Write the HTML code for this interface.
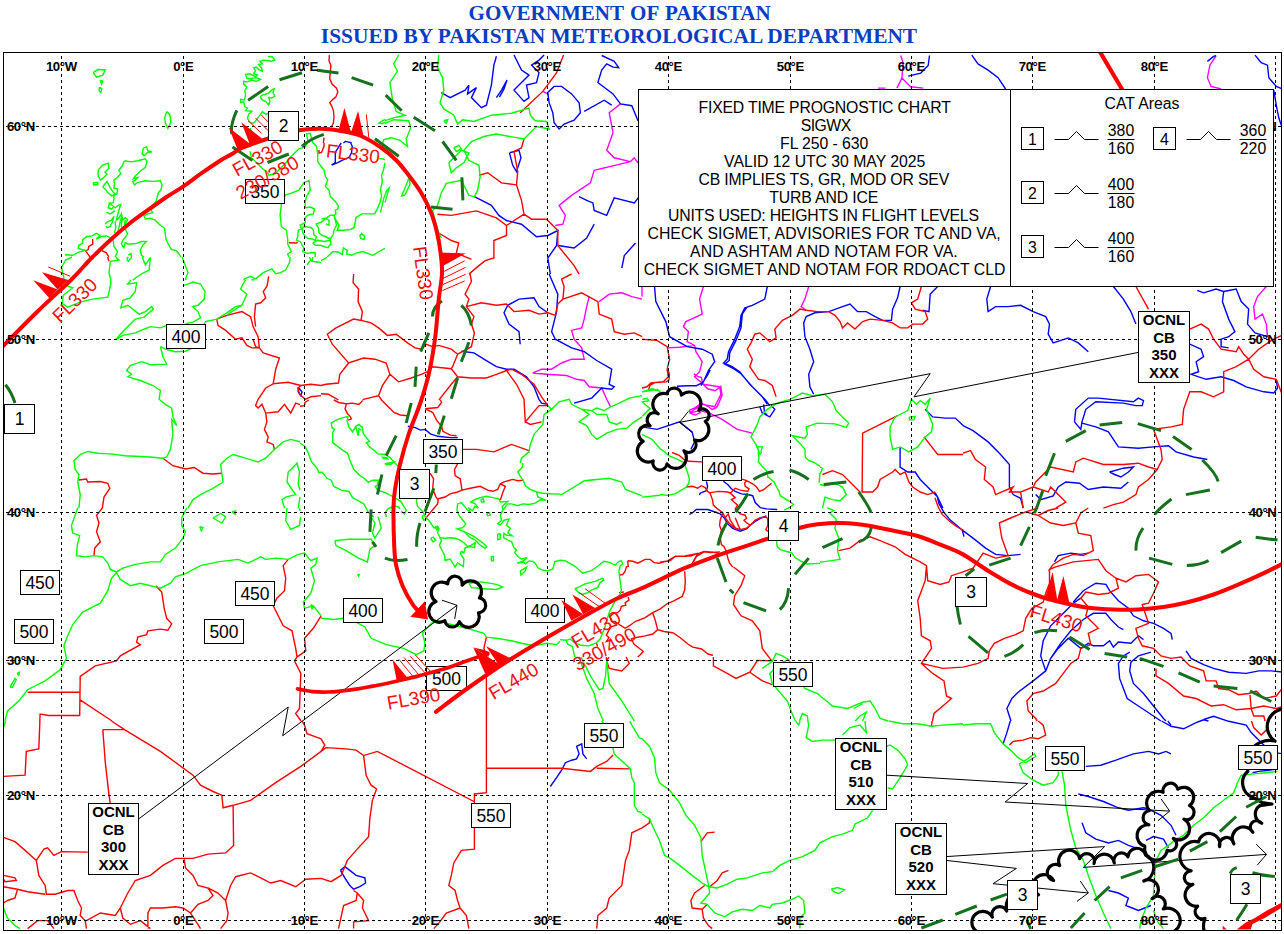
<!DOCTYPE html>
<html><head><meta charset="utf-8"><title>SIGWX</title>
<style>
html,body{margin:0;padding:0;background:#fff;}
body{width:1284px;height:934px;overflow:hidden;position:relative;font-family:"Liberation Sans",sans-serif;}
svg{position:absolute;left:0;top:0;display:block}
svg text{font-family:"Liberation Sans",sans-serif;}
.ttl{font-family:"Liberation Serif",serif;font-weight:bold;fill:#0b3dc1;text-anchor:middle}
.gl{font-weight:bold;font-size:13.2px;fill:#000;letter-spacing:-0.4px}
.bx{fill:#fff;stroke:#000;stroke-width:1}
.bt{font-size:17.5px;text-anchor:middle;fill:#000}
.ob{font-size:15px;font-weight:bold;text-anchor:middle;fill:#000}
.lg{font-size:15.8px;text-anchor:middle;fill:#000}
.jt{fill:none;stroke:#f00;stroke-linejoin:round}
.jf{fill:#f00;stroke:none}
.jh{fill:none;stroke:#f00;stroke-width:1}
.fl{font-size:19px;fill:#f40f14;}
.cat{fill:none;stroke:#15711b;stroke-width:3.0;stroke-linecap:butt}
.cb{fill:none;stroke:#000;stroke-width:3.2;stroke-linejoin:round;stroke-linecap:round}
.ld{fill:none;stroke:#000;stroke-width:1}
.grid{fill:none;stroke:#000;stroke-width:1;stroke-dasharray:3 3;shape-rendering:crispEdges}
.cG{fill:none;stroke:#00ff00;stroke-width:1.4}
.cR{fill:none;stroke:#ff0000;stroke-width:1.4}
.cB{fill:none;stroke:#0000ff;stroke-width:1.4}
.cM{fill:none;stroke:#ff00ff;stroke-width:1.4}
</style></head><body>
<svg width="1284" height="934" viewBox="0 0 1284 934">
<rect x="0" y="0" width="1284" height="934" fill="#fff"/>
<defs><clipPath id="fc"><rect x="3.5" y="52.5" width="1278.0" height="878.0"/></clipPath></defs>
<text class="ttl" x="619.6" y="20.2" font-size="21.05" word-spacing="1.2">GOVERNMENT OF PAKISTAN</text>
<text class="ttl" x="619" y="42.6" font-size="21.4">ISSUED BY PAKISTAN METEOROLOGICAL DEPARTMENT</text>
<g clip-path="url(#fc)">
<path class="cM" d="M542.8 91.4 L547.8 93.9 M620.5 103.9 L609.2 112.7 L613 132.7 L606.7 150.3 L614.2 157.8 L630.5 161.6 L594.2 170.3 L590.4 182.9 L571.6 195.4 L559.1 205.4 L565.4 215.4 L562.9 224.2 L555.3 225.5 M630.5 161.6 L634.3 157.8 L638 162.8 M642.1 299.1 L631.8 296.6 L621.8 292.8 L609.2 294.1 L599.2 301.6 M589.2 296.6 L586.7 306.6 L584.2 319.1 L581.7 327.9 L571.6 330.4 L574.1 339.2 L581.7 347.9 L584.2 359.2 L571.6 359.2 L561.6 363 L551.6 369.2 L541.6 369.2 L532.8 373 L546.6 374.3 L566.6 375.5 L576.6 379.3 L584.2 380.5 L589.2 386.8 L601.7 388 L606.7 399.3 L610.5 406.8 M703.4 286.5 L699.6 299.1 L702.2 314.1 L685.9 321.6 L683.4 326.6 L688.4 331.6 L687.1 341.7 L694.6 345.4 L695.9 351.7 L702.2 361.7 L699.6 371.7 L694.6 376.8 L703.4 384.3 L719.7 386.8 L720.9 394.3 L714.7 406.8 L702.2 404.3 L694.6 409.3 L689.6 413.1 L699.6 410.6 L709.7 413.1 L722.2 419.4 L737.2 429.4 L752.3 433.1 M667.1 347.9 L679.6 347.2 L694.6 345.4 M808.7 286.5 L804.9 299.1 L801.1 306.6 L806.2 310.3 M642 286.5 L642 296.6 M1266.3 286.5 L1257.5 296.6 L1253.7 306.6 L1255 319.1 L1262.5 314.1 L1266.3 324.1 L1267.5 336.7 M1216.1 55.6 L1209.9 65.2 L1207.4 77.7 L1211.1 86.5 L1221.1 89.0 M900.7 55.5 L903.2 63 L901.9 78.1 L896.9 88.1 M901.9 78.1 L910.7 86.8 L923.2 88.1 M878.1 88.1 L885.6 88.1 M693.9 373.8 L697.7 376.3 L701.4 377.5 L702.7 383.8 L707.7 388.8 L715.2 390.7 L720.8 386.3 L722.1 395.1 L719 402.6 L716.5 407.6 L712.1 409.5 L707.7 406.3 L701.4 403.2 L695.2 407.6 L689.5 410.1 L690.1 413.2 L695.2 415.1 L700.2 412.6 L697.7 407.6"/>
<path class="cB" d="M343.4 143 L345.3 141.4 L351 142.6 L351 143.0 M441.3 92.6 L450.1 97.6 L465.1 90.1 L468.9 85.1 L467.6 93.9 L476.4 87.6 L471.4 97.6 L481.4 107.7 L486.4 105.2 L491.4 85.1 L493.9 65.1 L496.4 56.3 M496.4 97.6 L501.5 90.1 L507 80.1 L504 88.9 L499.4 97.1 M514 55 L521.5 70.1 L529 75.1 L521.5 82.6 L514 90.1 L524 101.4 L529 97.6 L526.5 85.1 L536.5 82.6 L539 72.6 L531.5 65.1 L539 60.1 L544.1 55.0 M547.8 92.6 L554.1 86.4 L561.6 86.4 L571.6 93.9 L579.1 102.7 L580.4 112.7 L574.1 120.2 L564.1 124 L559.1 129 L554.1 122.7 L552.8 112.7 L549.1 102.7 L547.8 92.6 M601.7 55.5 L614.2 61.3 L618.7 67.6 L613 67.1 L606.7 63.8 L601.7 70.1 L597.9 82.6 L613 93.9 L620.5 103.9 L631.8 105.7 L638 120.7 M584.2 111.4 L604.2 100.2 L611.7 105.2 M509.5 152.8 L519 150.3 L521 157.8 L516.5 171.6 L512.7 165.3 L509.5 152.8 M474.4 196.6 L491.4 205.4 L498.9 215.4 L506.5 220.5 L521.5 224.2 L536.5 236.7 L547.8 235.5 L557.8 230.5 L556.6 245.5 L547.8 258 L550.3 274.1 M579.1 196.6 L586.7 200.4 L592.9 202.9 L594.2 210.4 L606.7 215.4 L614.2 197.9 L634.3 202.9 L642.1 192.9 M594.2 224.2 L586.7 238 L574.1 248 L557.8 245.5 M635.5 243 L624.3 255.5 L621.8 268.1 M298.2 387.3 L302 391.8 L300.8 395.6 L298.2 391.8 L298.2 387.3 M549.1 274 L557.8 294.1 L556.6 311.6 L551.6 331.6 L555.3 339.2 L571.6 347.9 L584.2 351.7 L596.7 360.5 L611.7 369.2 L609.2 384.3 L614.2 386.8 L611.7 389.3 L601.7 388 L591.7 398.1 L574.1 403.1 M547.8 312.8 L539 306.6 L534 297.8 L519 299.1 L507.7 305.3 L504 312.8 L509 324.1 L519 331.6 L520.2 344.2 M461.4 351.2 L473.9 352.9 L483.9 359.2 L496.4 366.7 L506.5 369.2 L514 369.2 L526.5 376.8 L534 386.8 L539 399.3 L541.6 403.1 L547.8 404.3 M654.5 286.5 L655.8 301.6 L665.8 321.6 L669.6 336.7 L687.1 346.7 L702.2 349.2 L712.2 354.2 L714.7 361.7 L708.4 370.5 L703.4 381.8 L700.9 385.5 M767.3 286.5 L764.8 299.1 L752.3 305.3 L744.8 307.8 L741 315.4 L739.7 326.6 L734.7 339.2 L728.5 351.7 L727.2 359.2 L723.5 363 L732.2 366.7 L739.7 371.7 L749.8 384.3 L762.3 396.8 L767.3 404.3 M747.3 306.6 L742.3 314.1 L741 327.9 L736 340.4 L729.7 352.9 L729.2 360.5 L724.7 364.2 L733.5 368.7 L741 373.7 L752.3 386.8 L764.8 399.3 L769.8 405.6 M763.6 404.3 L764.8 414.4 L769.8 416.9 L774.8 409.3 L771.1 405.6 M759.8 406.8 L762.3 413.1 L767.3 414.4 M900.1 286.5 L897.6 297.8 L892.6 309.1 L891.4 320.4 L882.6 320.4 L875.1 316.6 L866.3 311.6 L857.5 311.6 L850 304.1 L842.5 306.6 L828.7 311.6 L814.9 312.8 L806.2 316.6 L803.7 322.9 L804.9 336.7 L809.9 349.2 L813.7 361.7 L808.7 374.3 L809.9 386.8 L813.7 394.3 M937.7 286.5 L930.2 294.1 L929 311.6 L922.7 310.3 M925.2 409.3 L932.7 416.9 L945.3 418.1 L955.3 418.1 L963.1 425.6 M900.1 446.9 L900.1 467 L907.7 472 L915.2 472 L920.2 479.5 L930.2 489.5 L937.7 497.1 L942.8 508.1 M642 426.9 L657 429.4 L679.6 421.9 L692.1 431.9 L694.6 441.9 L690.9 449.4 M990.6 286.5 L986.8 299.1 L988.1 311.6 L995.6 306.6 L1008.1 306.6 L1020.6 305.3 L1033.2 311.6 L1045.7 316.6 L1049.5 324.1 L1048.2 334.2 L1053.2 342.9 L1068.3 337.9 L1078.3 342.9 L1088.3 351.7 M1113.4 286.5 L1123.4 299.1 L1130.9 311.6 L1135.9 324.1 M1197.3 290.3 L1203.6 292.8 L1216.1 289 L1223.7 291.5 L1222.4 301.6 L1228.7 319.1 L1234.9 331.6 L1228.7 336.7 L1221.1 339.2 L1221.1 346.7 L1228.7 347.9 M1223.7 291.5 L1236.2 289 L1241.2 301.6 L1248.7 309.1 L1247.5 324.1 L1255 332.9 L1267.5 336.7 M1189.8 344.2 L1201.1 349.2 L1203.6 356.7 L1196.1 361.7 L1198.6 371.7 L1191.1 374.3 L1206.1 379.3 L1221.1 376.8 L1233.7 380.5 L1246.2 386.8 L1263.8 391.8 L1273.8 393 L1277.5 388 L1276.3 380.5 M1074.5 421.9 L1075.8 409.3 L1088.3 398.1 L1098.3 398.1 L1133.4 401.8 L1138.4 398.1 L1143.5 400.6 L1142.2 405.6 L1135.9 405.6 L1123.4 403.1 L1095.8 401.8 L1085.8 409.3 L1082 421.9 L1080.8 429.4 L1074.5 421.9 M1082 423.1 L1095.8 426.9 L1108.4 431.9 L1118.4 446.9 L1138.4 448.2 L1153.5 446.9 L1168.5 445.7 L1176 451.9 L1193.6 457 L1207.4 459.5 M1109.6 472 L1123.4 468.2 L1133.4 467 L1128.4 472 L1120.9 477 L1114.6 474.5 L1109.6 472.0 M1128.4 482 L1120.9 488.3 L1103.4 487 L1088.3 489.5 L1079.5 483.3 L1065.8 482 L1058.2 487 L1053.2 495.8 L1040.7 499.6 L1035.7 494.6 M963 425.6 L973 430.6 L988.1 441.9 L1000.6 454.5 L1009.4 464.5 L1009.4 487 L1013.1 494.6 L1020.6 498.3 L1023.2 508.1 M1080.8 598.2 L1073.3 603.2 L1063.3 613.3 L1050.7 625.8 L1043.2 640.8 L1040.7 655.9 L1045.7 670.9 L1033.2 680.9 L1018.1 692.2 L1011.9 698.5 L1006.9 708.5 L1011 721.0 M1073.3 602 L1083.3 590.7 L1095.8 583.2 L1105.9 584.4 L1109.6 590.7 L1118.4 600.7 L1128.4 608.3 L1133.4 615.8 L1143.5 620.8 L1153.5 623.3 L1163.5 628.3 L1171 633.3 L1172.3 639.6 M1123.4 629.6 L1118.4 627 L1110.9 619.5 L1105.9 613.3 L1093.3 613.3 L1083.3 619.5 L1070.8 630.8 L1060.7 643.3 L1050.7 658.4 L1045.7 670.9 M1143.5 639.6 L1138.4 635.8 L1130.9 643.3 L1118.4 642.1 L1113.4 647.1 L1109.6 640.8 L1103.4 645.8 L1093.3 645.8 L1088.3 643.3 L1080.8 648.4 L1068.3 638.3 L1058.2 648.4 L1050.7 658.4 M1129.7 652.1 L1123.4 655.9 L1118.4 663.4 L1119.6 678.4 L1127.2 698.5 L1138.4 706 L1153.5 716 L1160.9 721.0 M1200.3 721 L1203.6 719.8 L1208.5 721.0 M1151 652.1 L1138.4 655.9 L1130.9 662.1 L1129.7 670.9 L1133.4 683.4 L1143.5 693.5 L1153.5 706 L1163.5 718.5 L1166 721.0 M1186.1 650.9 L1191.1 658.4 L1203.6 664.6 L1213.6 668.4 L1228.7 672.2 L1246.2 673.4 L1258.7 670.9 L1271.3 670.9 L1284.1 672.2 M963 530.6 L973 538.1 L985.6 548.1 L995.6 554.4 L1008.1 555.6 L1020.6 554.4 M1054.5 561.9 L1058.2 555.6 L1070.8 553.1 L1080.8 554.4 L1088.3 553.1 M340.5 870.4 L344.8 866.7 L349.8 870.4 L356.1 875.4 L364.9 877.9 L365.6 883 L359.8 886.7 L353.6 889.2 L349.8 885.5 L344.8 877.9 L340.5 870.4 M550.3 786.5 L556.6 777.7 L561.6 770.2 L565.4 762.7 L571.6 760.2 L576.6 758.9 L579.1 753.9 L576.6 746.4 L581.7 743.9 L582.9 753.9 L586.7 758.9 M1003.1 743.9 L1006.9 732.6 L1010.3 721.0 M1085.8 766.4 L1100.8 765.2 L1115.9 760.2 L1133.4 753.9 L1148.5 751.4 L1158.5 753.9 L1166 751.4 L1171 753.9 M1078.3 794 L1088.3 796.5 L1103.4 801.5 L1118.4 807.8 L1128.4 810.3 L1143.5 807.8 L1148.5 809 L1161 815.3 L1171 825.3 L1176 835.3 M1082 822.8 L1085.8 832.8 L1095.8 839.1 L1108.4 842.9 L1118.4 840.4 L1128.4 845.4 L1135.9 847.9 M1108.4 890.5 L1118.4 893 L1128.4 898 L1125.9 905.5 L1138.4 910.5 L1151 905.5 M1161.6 721 L1171 726.3 L1183.6 728.8 L1196.1 722.6 L1200.4 721.0 M1227.8 721 L1228.7 721.3 L1246.2 725.1 L1251.2 732.6 L1258.7 740.1 L1266.3 747.6 L1273.8 752.6 L1284.1 753.9 M1167.8 721 L1171 725.1 M1146 840.4 L1153.5 836.6 L1163.5 839.1 L1168.5 847.9 M1252.5 772.7 L1258.7 771.4 L1268.8 770.2 L1277.5 768.9 M971.8 55.1 L978 63.9 L988.1 70.2 L998.1 77.7 L1005.6 89.0 M1207.4 61.4 L1213.6 56.4 L1216.1 55.6 M1255 55.1 L1261.2 62.7 L1267.5 65.2 L1268.8 77.7 L1276.3 86.5 L1282.5 89.0 M1273.8 90.2 L1276.3 105.3 L1278.8 117.8 L1281.3 125.3 M929.5 55.5 L928.2 65.5 L920.7 73.1 L908.2 76.1 M677 386.3 L687.6 385.7 L696.4 385.7 L702.7 382.5 L707.7 375 L710.2 370.0 M407.8 426.3 L415.3 427.6 L420.3 430.1 L425.3 429.4 L430.3 433.8 L437.8 436.3 L450.4 437.6 L457.9 437.6 M331.5 165.1 L335.3 162.6 L335.3 152.5 L339 146.3 L341.2 143.0 M350.8 143 L352.2 146.3 L351.6 152.5 L349.1 157.5 L345.3 158.8 L341.5 160.7 L337.8 162.6 L331.5 165.1 M706.4 481.3 L707.6 486.3 L706.4 490.7 L700.1 493.2 L699.5 495.1 M723.3 481.3 L727.7 484.5 L731.4 488.8 L735.2 491.4 L741.5 493.9 L747.7 494.5 L752.7 495.7 L755.2 502.6 L760.3 507.6 L766.5 508.9 L777.2 509.5 M689.4 514.5 L692.6 512.7 L696.3 509.5 L707.6 509.5 L715.1 512 L720.2 513.9 L724.5 518.3 L727.7 523.9 L732.7 528.3 L740.2 531.2 L746.5 528.9 L750.2 525.2 L755.2 521.4 L760.3 518.3 L766.5 515.8 M935 492.7 L937.2 496.3 L939 503.8 L944.1 512.6 L950.3 520.1 L957.8 526.3 L962.2 530.1 L964 536.6 M1203.6 719.5 L1213.6 716.3 L1228.7 721.3"/>
<path class="cR" d="M89.5 257 L89.7 257.5 M107.6 257 L109 261.3 M268.7 276.3 L268 280.0 M324 137.6 L323.4 143.0 M563.6 55 L556.6 72.6 L542.8 91.4 L520.2 112.7 M524 139 L521.5 147.8 L514 151.5 L517.7 171.6 L516.5 184.9 L521.5 200.4 L524 214.2 M478.9 175.3 L487.7 172.8 L501.5 182.9 L516.5 184.9 M437.5 214.2 L451.3 215.4 L476.4 210.9 L496.4 217.9 L506.5 225.5 L524 214.2 L531.5 219.2 L546.6 219.2 L557.8 230.5 L557.8 245.5 L574.1 265.6 L579.1 274.1 M506.5 225.5 L506.5 235.5 L493.9 240.5 L493.9 258 L485.2 260.6 L478.9 265.6 L468.9 274.1 M438.8 233 L451.3 240.5 L458.8 243 L456.3 253 L471.4 259.3 M162.9 458.2 L172.9 465.7 L185.5 469 L194.2 467.5 L203 473.2 L213 474 L221.8 473.2 M78.9 480 L86.5 479 L87.7 482 L100.3 481.5 L107.8 483.3 L109.8 488.3 L104 497.1 L102.3 508.1 M216.8 319.1 L226.8 315.4 L241.9 311.6 L250.6 316.6 L253.1 326.6 L258.1 336.7 L259.4 347.9 L251.9 347.9 L246.9 345.4 L241.9 337.9 L235.6 339.2 L225.6 330.4 L218 325.4 L216.8 319.1 M259.4 347.9 L263.2 352.9 L279.4 358 L275.7 369.2 L273.2 383.8 L288.2 382.3 L300.8 385.5 L310.8 384.3 L321.1 385.5 M253.1 339.2 L255.6 346.7 L259.4 347.9 M268.2 280 L266.9 286.5 L263.2 291.5 L265.7 297.8 L260.7 302.8 L255.6 304.1 L254.4 316.6 L255.6 326.6 M273.2 383.8 L265.7 388 L258.1 399.3 L255.6 405.6 L258.1 408.1 L261.9 404.3 L265.7 413.1 L278.2 411.8 L284.5 404.3 L290.7 413.1 L295.7 403.1 L300 404.7 M305.2 400 L305.3 399.3 L299.5 394.3 L298.2 388 L300.8 385.5 M305.3 399.3 L310.8 396.8 L321.1 395.6 M265.7 413.1 L266.9 421.9 L264.4 429.4 L268.2 436.9 L266.9 441.9 L273.2 444.4 L274.4 449.4 M353.6 274 L353.1 282.8 L358.6 289 L358.1 301.6 L362.4 311.6 L361.1 320.4 L353.6 319.1 L336 327.9 L327.3 334.2 L332.3 344.2 L348.6 363 L363.6 358 L374.9 359.2 L386.2 363 L389.9 374.3 L382.4 385.5 L378.6 395.6 L363.6 399.3 L362.9 400.0 M338.5 400 L328.5 394.3 L321 393.8 M348.6 363 L339.8 374.3 L338.5 383 L326 384.3 L321 385.5 M361.1 320.4 L371.1 322.9 L378.6 327.9 L387.4 335.4 L396.2 334.2 L407.5 342.9 L415 347.9 L421.3 349.2 L426.3 344.2 L432.5 346.7 L438.8 345.4 L451.3 349.2 L457.6 354.2 L452.6 366.7 L451.3 368.7 M389.9 374.3 L398.7 381.8 L411.2 378 L421.3 374.3 L427.5 371.7 L432.5 366.7 L451.3 368.7 L457.6 376.8 L471.4 378 L486.4 378 L496.4 374.3 L506.5 370.5 M457.6 354.2 L471.4 346.7 L474.4 332.9 L471.4 324.1 L473.9 316.6 L466.4 306.6 L468.9 299.1 L465.1 294.1 L471.4 281.5 L470.1 274.0 M466.4 306.6 L481.4 302.8 L496.4 305.3 L506.5 304.1 L514 311.6 L529 310.3 L539 314.1 L547.8 312.8 L555.3 315.4 L557.8 304.1 L562.9 299.1 L564.1 286.5 L561.6 279 L571.6 274.0 M562.9 299.1 L581.7 292.8 L597.9 301.6 L599.2 314.1 L611.7 319.1 L614.2 331.6 L624.3 334.2 L634.3 332.9 L642.1 336.7 M378.6 395.6 L381.6 400.0 M439 400 L441.3 396.8 L451.3 384.3 L457.6 376.8 M506.5 370.5 L516.5 384.3 L524 399.3 L525.3 421.9 L539 405.6 L547.8 405.6 M525.3 421.9 L530.3 424.4 L541.6 421.9 M506.5 370.5 L511.5 369.2 L521.5 374.3 L534 384.3 L541.6 396.8 L547.8 405.6 M462.6 449.4 L476.4 449.4 L493.9 451.9 L511.5 444.4 L529 450.7 M642 339.2 L657 340.4 L667.1 346.7 L669.6 359.2 L667.1 369.2 L668.3 376.8 L663.3 381.8 L650.8 383 L647 386.8 L642 388.0 M776.1 396.8 L772.3 385.5 L764.8 380.5 L758.5 379.3 L749.8 366.7 L752.3 359.2 L747.3 349.2 L751 342.9 L754.8 334.2 L759.8 332.9 L769.8 341.7 L776.1 337.9 L774.8 329.1 L782.4 320.4 L792.4 315.4 L799.9 309.1 L806.2 310.3 L817.4 311.6 L828.7 311.6 L835 315.4 L840 321.6 L842.5 327.9 L847.5 322.9 L855 329.1 L862.6 321.6 L870.1 319.1 L882.6 320.4 L892.6 322.9 L900.1 327.9 L907.7 327.9 L912.7 324.1 L922.7 324.1 L927.7 319.1 L925.2 311.6 L915.2 309.1 L911.4 302.8 L917.7 299.1 L921.4 286.5 M897.6 415.6 L895.1 416.9 L862.6 433.1 L862.1 492 L872.6 492 L877.6 487 L880.1 479.5 L892.6 472 L895.1 469.5 L900.1 474.5 L905.2 472 L908.9 482 L912.7 487 L920.2 492 L927.7 494.6 L935.2 492.0 M924 436.9 L937.7 454.5 L963.1 454.5 M822.5 474.5 L832.5 470.7 L842.5 474.5 L852.5 484.5 L860 492.0 M1135.9 286.5 L1148.5 309.1 M1189.8 329.1 L1201.1 324.1 L1208.6 329.1 L1213.6 339.2 L1221.1 349.2 L1236.2 351.7 L1238.7 346.7 L1243.7 354.2 L1248.7 359.2 L1253.7 369.2 L1263.8 376.8 L1276.3 379.3 L1282.5 395.6 M1284.1 334.2 L1271.3 340.4 L1258.7 349.2 L1248.7 359.2 L1236.2 366.7 L1223.7 371.7 L1223.7 391.8 L1213.6 396.8 L1201.1 391.8 L1189.8 391.8 L1183.6 409.3 L1182.3 424.4 L1171 426.9 L1153.5 429.4 L1161 449.4 L1162.2 459.5 L1157.2 469.5 L1148.5 467 L1138.4 463.2 L1123.4 464.5 L1103.4 464.5 L1083.3 458.2 L1075.8 462 L1073.3 472 L1050.7 467 L1043.2 474.5 L1035.7 482 L1033.2 487 L1020.6 492 L1023.2 508.1 M963 453.2 L970.5 450.7 L975.5 459.5 L985.6 467 L984.3 479.5 L993.1 487 L995.6 494.6 L1013.1 487 L1009.4 492 L1020.6 492.0 M1033.2 487 L1048.2 492 L1050.7 487 L1058.2 494.6 L1065.8 502.1 L1055.7 508.1 M1157.2 469.5 L1148.5 479.5 L1138.4 487 L1135.9 494.6 L1123.4 502.1 L1113.4 504.6 L1103.4 508.1 M102.3 508 L96.5 515.5 L99 523 L96.5 531.8 L100.3 541.8 L94.7 548.1 L94 555.6 M155.9 585.7 L161.7 592 L164.2 608.3 L166.7 618.3 L171.7 623.8 L167.9 630.3 L160.4 629.1 L147.9 630.8 L146.6 634.6 L137.8 637.1 L136.6 642.1 L140.4 644.6 L120.3 655.9 L116.5 660.9 L95.2 665.9 L80.2 676.4 L79.7 715.5 L48.9 715.5 L40.1 714 L39.8 721.0 M27.6 692.2 L79.7 692.2 M79.7 699.7 L112 721.0 M288.2 559.4 L283.2 565.6 L285.7 578.2 L284.5 590.7 L276.9 598.2 L273.2 605.7 L278.2 615.8 L283.2 625.8 L292 630.8 L295.7 648.4 L297 657.1 M321.1 615.8 L313.3 628.3 L304.5 638.3 L305.8 650.9 L297 657.1 L294.5 660.9 L300.8 673.4 L299.5 708.5 L295.7 713.5 L301 721.0 M486.4 637.1 L483.9 648.4 L486.4 658.4 L486.4 721.0 M606.3 657 L606.7 660.9 M606.7 660.9 L609.2 668.4 L621.8 670.9 L629.3 663.4 L626.1 657.0 M609 657 L606.7 660.9 M733.5 567 L744.8 575.7 L741 585.7 L734.7 595.7 L733.5 604.5 L741 615.8 L752.3 620.8 L759.8 630.8 L762.3 648.4 L769.8 658.4 L772.3 661.4 M713.4 657 L713.4 665.9 L727.2 673.4 L736 678.4 L749.8 672.2 L754.8 664.6 L757.3 660.4 L772.3 660.9 M749.8 672.2 L762.3 680.9 L772.3 684.7 M838.7 550.6 L850 548.1 L860 540.6 L870.1 536.8 L880.1 540.6 L895.1 546.8 L905.2 554.4 L912.7 558.1 L920.2 561.9 L926.5 565.6 L927.7 580.7 L940.2 584.4 L949 581.9 L951.5 575.7 L963.1 571.9 M926.5 565.6 L925.2 580.7 L917.7 600.7 L920.2 618.3 L921.4 635.8 L930.2 640.8 L931.5 648.4 L926.5 655.9 L921.4 663.4 L932.7 673.4 L944 680.9 L946.5 696 L951.5 698.5 L942.8 706 L934 713.5 L932.5 721.0 M921.4 663.4 L942.8 668.4 L963.1 667.1 M963 571.9 L973 568.2 L983.1 553.1 L995.6 558.1 L1008.1 555.6 L1001.8 538.1 L999.3 523 L1010.6 518 L1025.7 511.8 L1038.2 508.0 M1025.7 511.8 L1038.2 515.5 L1048.2 510.5 L1058.2 508.0 M1038.2 515.5 L1050.7 523 L1063.3 525.5 L1075.8 523 L1080.8 513 L1088.3 508.0 M1075.8 523 L1078.3 533.1 L1090.8 535.6 L1093.3 550.6 L1083.3 555.6 L1073.3 554.4 L1063.3 558.1 L1053.2 564.4 L1049.5 569.4 L1055.7 566.9 L1073.3 561.9 L1098.3 559.4 L1105.9 570.7 L1115.9 578.2 L1125.9 581.9 L1135.9 575.7 L1148.5 574.4 L1158.5 581.9 L1153.5 593.2 L1148.5 603.2 L1142.2 604.5 L1146 615.8 L1148.5 623.3 L1135.9 628.3 L1138.4 638.3 L1142.2 645.8 L1153.5 648.4 L1161 655.9 L1171 658.4 L1181 657.1 L1189.8 665.9 L1203.6 670.9 L1206.1 680.9 L1216.1 680.9 L1218.6 688.5 L1228.7 689.7 L1238.7 694.7 L1248.7 693.5 L1256.2 691 L1263.8 698.5 L1276.3 696 L1284.1 685.9 M1115.9 578.2 L1118.4 588.2 L1108.4 593.2 L1098.3 594.5 L1085.8 592 L1080.8 598.2 L1088.3 607 L1085.8 615.8 L1098.3 628.3 L1088.3 633.3 L1090.8 644.6 L1080.8 648.4 L1078.3 658.4 L1070.8 663.4 L1063.3 673.4 L1055.7 683.4 L1043.2 691 L1033.2 693.5 L1026.9 701 L1028.2 711 L1035.7 718.5 L1037.3 721.0 M1156 668.4 L1156 675.9 L1168.5 683.4 L1183.6 696 L1196.1 698.5 L1211.1 706 L1223.7 704.7 L1236.2 709.8 L1251.2 708.5 L1263.8 706 L1276.3 708.5 L1284.1 706.0 M1250 694.7 L1251.2 708.5 L1253.7 716 L1263.8 716 L1265 721.0 M963 667.1 L978 663.4 L988.1 658.4 L989.3 650.9 L994.3 643.3 L1004.4 638.3 L1015.6 634.6 L1023.2 630.8 L1025.7 618.3 L1031.9 608.3 L1043.2 602 L1045.7 593.2 L1049.5 583.2 L1049.5 569.4 M39.9 721 L38.8 748.9 L26.3 751.4 L25.1 775.2 L3.5 776.4 M111.5 721 L125.3 730.1 L160.4 751.4 L193 775.2 L200.5 785.2 L213 791.5 L221.8 795.2 L223.1 807.8 L233.1 805.3 L250.6 800.3 L275.7 782.7 L300.8 766.4 L321.1 751.4 M102.8 729.6 L125.3 729.6 M102.8 729.6 L105.3 762.7 L109 795.2 L110.3 803.3 M233.1 805.3 L233.6 845.4 L225.6 852.9 L208 854.1 L193 858.4 L175.4 858.4 L162.9 865.4 L150.4 875.4 L135.3 880.5 L127.8 893 L120.3 908 L122.8 918 L130.3 924.3 L140.4 920.6 L150.4 928.6 M3.5 837.3 L15 841.6 L25.1 850.4 L36.3 860.4 L43.9 849.1 L47.6 847.9 L53.9 855.4 L61.4 851.6 L87.7 852.1 M36.3 860.4 L38.8 875.4 L45.1 885.5 L46.4 894.2 L55.1 894.2 L67.7 890.5 L73.9 890.5 L77.7 900.5 L81.5 908 L80.2 915.5 L85.2 920.6 L86.5 928.6 M3.5 875.4 L15 877.9 L16.3 880.5 L5 881.7 L3.5 879.2 M3.5 886.7 L17.5 889.2 L27.6 891.7 L45.1 894.2 M17.5 889.2 L15 898 L7.5 900.5 L3.5 903.0 M53.9 928.6 L47.6 920.6 L37.6 920.6 L27.6 928.6 M86.5 920.6 L100.3 913 L107.8 914.3 L115.3 915.5 L120.3 908.0 M147.9 928.6 L147.9 913 L150.4 908 L162.9 908 L175.4 906.8 L183 908 L190.5 913 L195.5 920.6 L200.5 928.6 M184.2 859.1 L185.5 867.9 L193 875.4 L198 885.5 L208 888 L213 895.5 L208 900.5 L198 904.3 L190.5 913.0 M208 888 L218 893 L225.6 900.5 L228.1 913 L226.8 920.6 L220.6 928.6 M225.6 900.5 L230.6 885.5 L235.6 876.7 L250.6 872.9 L260.7 877.9 L270.7 883 L280.7 880.5 L295.7 886.7 L305.8 879.2 L321.1 878.4 M321 751.4 L326 747.6 L346.1 748.9 L356.1 750.1 L363.6 755.6 L377.4 751.4 L473.9 801.5 M486.4 721 L486.4 792.7 L474.4 794 L474.4 849.1 L461.4 850.4 L453.8 862.9 L451.3 875.4 L448.8 885.5 L455.1 890.5 L457.6 900.5 L460.1 908 L446.3 913 L438.8 923.1 L433.8 928.6 M486.4 768.2 L561.6 768.2 L590.4 771.4 L596.7 766.4 L606.7 761.4 L613 755.1 M596.7 768.2 L630.5 768.9 M363.6 755.6 L366.1 775.2 L371.1 785.2 L376.6 789 L372.4 800.3 L369.9 817.8 L368.6 836.6 L356.1 850.4 L347.3 860.4 L344.8 866.7 L341.1 875.4 L331 881.7 L321 878.4 M353.6 890.5 L357.3 893 L356.1 900.5 L343.6 905.5 L338.5 928.6 M357.3 893 L363.6 900.5 L362.4 908 L368.6 920.6 L353.6 921.8 L353.6 928.6 M460.1 908 L466.4 915.5 L468.9 928.6 M321 738.8 L324.8 745.1 L321 751.4 M642.1 827.8 L631.8 832.8 L629.3 850.4 L625.5 860.4 L621.8 885.5 L609.2 898 L606.7 908 L597.9 915.5 L596.7 928.6 M931.5 726.3 L932.1 721.0 M642 827.8 L649.5 822.8 L649.5 817.8 M700.9 841.6 L707.2 832.8 L714.7 832.1 M709.7 886.7 L717.2 880.5 L722.2 872.9 L728.5 870.4 M704.7 885.5 L694.6 893 L690.9 900.5 L692.1 908 L702.2 909.3 L707.2 904.3 M702.2 909.3 L703.4 918 L708.4 925.6 L712.2 928.6 M1038.3 721 L1043.2 725.1 L1045.7 735.1 L1038.2 738.8 L1030.7 737.6 L1023.2 740.1 L1013.1 741.4 L1009.4 745.1 M1251.5 721 L1253.7 727.6 L1261.2 735.1 L1266.3 730.1 L1268.8 721.3 L1268.5 721.0 M668.2 370 L669.5 375 L668.9 380 L666.3 381.9 L655.1 382.5 L650.1 385 L648.2 390.7 M457.6 463.8 L454.5 469.4 L455.1 475.7 L460.2 478.8 L462 490.1 M426.3 517.6 L431.3 511.4 L437.6 503.9 L438.2 500.1 L435.7 496.3 L433.2 490.1 L432.8 486.9 L433.6 478.8 L430.1 473.2 M438.2 498.8 L445.1 497 L450.1 493.8 L457.6 492 L462 490.1 L470.2 488.2 L480.2 486.3 L487.7 490.1 L492.7 491.3 L497.7 489.4 L500.3 483.8 L504 481.9 L512.8 479.4 L517.8 480.7 L523.4 480.1 M500.3 483.8 L505.3 486.3 L502.8 492.6 L500.3 500.1 M333.8 400 L338.8 402.5 L346.4 403.8 L345.1 408.8 L347.6 413.8 L350.1 416.3 L351.4 418.8 L348.2 420.1 M346.4 403.8 L352.6 403.1 L358.9 404.4 L362.7 400.6 M381.5 400 L387.7 406.3 L394 412.5 L400.3 415 L407.8 415.7 M425.3 408.8 L432.8 412.5 L436.6 420.1 L441.6 426.3 L442.9 431.3 L450.4 435.1 L456.6 435.7 M425.3 408.8 L437.8 407.5 L441.6 402.5 L440.4 400.0 M300 406.3 L304.4 405.6 L305 402.5 L308.8 400.0 M92.6 239 L92.8 244 L88.8 246.5 L88.2 249.6 L85.7 250.9 L90 257.0 M101.4 250.3 L106.4 252.8 L108.8 257.0 M288.9 242.8 L296.4 243 L297.7 242.1 M324 143 L324 146.3 L321.5 152.5 L319 153.2 L319 150.0 M671.9 452.5 L678.8 455 L683.8 459.4 L688.8 461.3 L702 461.9 M686.3 487 L692.6 486.3 L697.6 488.2 L701.4 485.7 L705.1 487.6 L707.6 491.4 L710.1 493.2 L712.6 500.1 L713.3 505.1 L717.6 508.9 L722.7 512.7 L725.2 517.7 L728.9 522.7 L733.9 527.7 L740.2 529.6 L746.5 528.3 L750.2 525.2 L746.5 522.7 L744 520.2 L746.5 518.3 L745.2 515.2 L740.2 513.9 L737.7 511.4 L735.2 508.9 L737.7 505.1 L733.9 502 L731.4 499.5 L735.2 497.6 L730.2 493.2 L727.7 492 L718.9 491.4 L710.1 492.6 M730.2 493.2 L735.2 488.2 L740.2 490.1 L747.7 491.4 L749 488.8 L745.2 486.3 L744.6 483.2 L746.5 480.7 L742.1 479.1 M746.5 480.7 L752.7 483.8 L756.5 487 L759.6 491.4 L764 489.5 L767.8 486.3 L771.5 483.2 M722.7 512.7 L720.2 520.2 L719.5 525.2 L721.4 530.2 L720.2 537.7 L721.4 544.6 L723.9 546.5 L726.4 551.5 L727.7 557.8 L729.5 562.8 L732.7 567.0 M725.2 517.7 L728.3 513.9 L730.2 520.2 L735.2 527.7 L737.7 530.2 M735.2 517.7 L738.3 525.2 L740.2 529.6 M750.2 525.2 L755.2 520.2 L760.3 517.7 L765.3 517 L767.8 518.3 L767.8 525.2 L765.9 529.6 L767.8 531.5 M660 562.2 L667.5 560.9 L675 556.5 L685.1 555.9 L695.1 554 L697.6 554 L693.8 560.3 L691.3 565.3 L690.1 567.0 M697.6 554 L703.9 551.5 L712.6 552.1 L718.9 553.4 M935 497.8 L935.3 498.8 L938.4 507.5 L942.2 514.4 L949.1 520.7 L955.3 525.7 L961.6 529.5 L964 530.7 M618.9 575.1 L622.7 574.5 L625.2 571.3 L626.4 566.9 L628.3 566.3 L627.7 561.9 L628.3 560.7 L632.7 561.3 L637.7 563.2 L645.2 559.4 L650.2 559.4 L654 562.6 L659 563.2 L664 561.9 L670.3 560.7 L675.3 556.3 L685.3 556.3 L691.6 555.7 L697.8 553.2 M692.8 562.6 L696.6 556.3 L704.1 551.9 L710.4 552.5 L720 551.9 M684.7 571.3 L685.3 581.4 L684.7 590.1 L682.2 596.4 L672.8 601.4 L667.8 603.3 L660.3 608.9 L652.7 612.7 L645.2 617.7 L635.2 621.5 L630.2 625.2 L625.2 628.3 L620.2 625.2 L615.1 621.5 M652.7 612.7 L655.2 620.2 L657.7 629.6 L664 631.5 L672.8 632.7 L680.3 637.7 L687.8 644 L692.8 647.1 L701.6 649 L707.9 654 L712.9 655.3 M657.7 629.6 L652.7 634 L645.2 635.9 L635.2 637.7 L631.4 639 L633.9 644 L640.2 649 L643.3 651.5 L640.2 654.7 L637.7 657.0 M618.9 592.6 L623.9 592.0 M628.3 597 L628.9 600.2 L625.2 602.7 L625.8 605.2 L621.4 606.4 L620.2 610.2 L617.6 612.7 L612.6 613.9 L610.1 616.4 L611.4 621.5 L615.1 621.5 L616.4 625.2 L611.4 626.5 L608.9 630.2 L606.4 635.2 L608.9 637.7 L606.4 641.5 L610.1 640.3 M596.3 642.8 L597.6 646.5 M302.1 721 L304.5 725.1 L307 733.6 L321.1 738.8 M329.4 55.1 L329 60.7 L330.9 65.7 L330.3 71.9 L329.7 78.8 L332.2 84.4 L336.5 88.1 L337.8 91.9 L335.9 96.9 L332.2 100 L329.7 102.5 L331.5 105.6 L333.4 110.6 L334 116.8 L333.4 123 L331.5 126.8"/>
<path class="cG" d="M93.2 72.6 L97.7 69.5 L105.3 70 L102.8 75.1 L96.5 77.1 L93.2 72.6 M100.3 80.1 L102.8 81.1 L101.5 84.1 L100.3 80.1 M99.5 87.1 L101.8 88.6 L100.8 92.6 L99.2 90.8 L99.5 87.1 M166.7 111.6 L169.9 114.7 L170.9 122.2 L167.9 128.4 L165.4 123.4 L164.7 117.7 L166.7 111.6 M250.5 128 L249.4 137.2 L250.4 143.0 M182.1 257 L184.2 262.5 L188 272.6 L185.5 278.8 L186.3 280.0 M142.2 257 L145.4 265 L150.4 257.5 L149.1 270 L141.6 273.8 L132.9 280.0 M126.6 259.5 L128.2 257.0 M131.7 257 L128.3 261.3 L126.6 259.5 M63.2 280 L63.9 277.6 L61.4 267.5 L65.7 260 L72 257.0 M115.7 257 L119 260 L110.3 261.3 L109 272.6 L110.8 280.0 M285.7 270 L289.5 262.5 L290.2 257.0 M309.3 257 L310.8 260 L307 265.0 M312.9 257 L312 261.3 L321.1 262.5 M243.7 280 L244.4 278.8 L250.6 276.3 L255.6 278.8 L263.2 272.6 L271.9 268.8 L275.7 273.8 L280.7 272.6 L285.7 270.0 M251.6 280 L253.1 279.6 L254.4 280.0 M256.3 141.4 L255.5 143.0 M308.8 143 L307.7 140.1 L306.5 133.9 L310.2 133.2 L312.7 142.6 L313.2 143.0 M398.7 55 L393.7 63.8 L397.4 71.3 L389.9 82.6 L392.4 98.9 L396.2 111.4 L405 115.2 L396.2 117.2 L385 120.7 M385 123.4 L393.7 119.7 L408.7 120.7 L410.7 127.7 L406.2 139 L407.5 146.5 L399.9 140.3 L391.2 137.7 L383.7 139.7 L382.6 143.0 M326.5 257 L326 258 L321 260.6 M409.2 177.3 L405 187.9 L401.7 195.9 L405 194.9 L410 184.1 L409.2 177.3 M386.7 190.4 L389.2 187.9 L385 202.6 M385 194.9 L386.7 190.4 M438.8 55 L437.5 67.6 L442.6 77.6 L443.8 90.1 L440 102.7 L443.8 108.9 L453.8 115.2 L457.6 124 L462.6 119.7 L473.9 121.5 L491.4 115.2 L511.5 113.2 L529 108.2 L530.3 115.2 L535.3 120.7 L546.6 121.5 L549.1 129 L536.5 126.5 L524 139 L496.4 134 L483.9 136.5 L471.4 141.5 L463.9 150.3 L468.9 160.3 L478.9 165.3 L480.1 176.6 L477.6 190.4 L474.4 196.6 L468.9 195.4 L461.4 180.4 L446.3 183.4 L441.3 192.9 L437.5 205.4 L432.5 210.4 L435 220.5 L438.8 233 L441.3 238.0 M448.8 162.8 L455.1 156.5 L461.4 150.3 L468.9 152.8 L463.9 162.8 L456.3 167.8 L451.3 172.8 L450.1 167.8 L448.8 162.8 M453.8 147.8 L458.8 145.3 L461.4 149 L456.3 151.5 L453.8 147.8 M443.8 120.7 L447.6 119.7 L446.3 123.2 L443.8 120.7 M110.6 280 L110.8 284 L107.8 297.1 L92.7 299.1 L80.2 302.1 L67.7 307.1 L62.2 303.6 L63.2 295.3 L72.7 287.8 L65.7 285.3 L68.4 280.0 M130.8 280 L127.8 284 L136.6 282.8 L135.3 291.5 L130.3 297.8 L122.8 300.3 L120.8 307.8 L127.8 305.3 L139.1 314.1 L145.4 311.6 L151.6 306.6 L153.4 309.1 L144.1 317.1 L135.3 319.1 L127.8 326.6 L120.3 334.2 L115.8 339.7 L122.8 335.4 L135.3 332.9 L140.9 330.4 L150.4 326.6 L160.4 327.9 L166.7 325.4 M184.2 285.3 L193 282 L200.5 284 L205 291.5 L204.3 299.1 L198 305.3 L192.5 306.6 L198 311.6 L200.5 317.9 L193 322.1 L185.5 323.6 M160.4 346.7 L165.4 349.2 L175.4 351.7 L185.5 351.2 L195.5 346.7 L205.5 321.6 L216.8 319.1 L226.8 312.8 L235.6 306.6 L241.9 305.3 L235.6 309.1 L228.1 314.1 M241.9 305.3 L246.9 294.1 L240.6 289 L244.4 281.5 L245.6 280.0 M160.4 346.7 L162.9 356.7 L166.7 364.2 L150.4 364.7 L141.6 361.7 L130.3 365.5 L126.6 370.5 L131.6 374.3 L127.8 376.8 L140.4 380.5 L152.9 385.5 L160.4 390.5 L159.1 399.3 L165.4 404.3 L171.7 408.1 L172.9 416.9 L176.7 425.6 L171.7 419.4 L172.9 434.4 L170.4 449.4 L166.7 457 L162.9 458.2 L150.4 457 L125.3 455.7 L110.3 453.9 L97.7 453.2 L87.7 451.4 L80.2 454.5 L73.9 460.7 L75.2 469.5 L78.9 474.5 L77.7 482 L80.2 494.6 L78.9 508.1 M188 508.1 L193 499.6 L200.5 494.6 L213 488.3 L223.1 482 L221.8 473.2 L220.6 464.5 L226.8 458.2 L233.1 454.5 L245.6 458.2 L258.1 462 L265.7 458.2 L274.4 449.4 L283.2 441.9 L290.7 439.4 L300 441.7 M298.2 508.1 L300 496.9 M300 489.8 L298.2 484.5 L299.5 472 L297 463.2 L288.2 472 L287 482 L292 489.5 L295.7 494.6 L285.7 497.1 L282 499.6 L284.5 508.1 M547.8 405.6 L551.6 409.3 L544.1 414.4 L542.8 424.4 L534 434.4 L530.3 444.4 L529 451.9 L521.5 458.2 L520.1 463.0 M560 494.6 L561.6 494.6 L574.1 487 L584.2 480.8 L596.7 479.5 L609.2 478.3 L621.8 482 L625.5 489.5 L642.1 495.8 M551.6 409.3 L559.1 401.8 L569.1 399.3 L571.6 404.3 L581.7 409.3 L591.7 410.6 L596.7 408.1 L604.2 410.6 L610.5 406.8 L616.7 404.3 L629.3 398.1 L642.1 395.6 M581.7 409.3 L589.2 414.4 L579.1 421.9 L586.7 425.6 L591.7 434.4 L596.7 439.4 L606.7 433.1 L616.7 429.4 L626.8 428.1 L634.3 421.9 L642.1 416.9 M591.7 410.6 L596.7 414.4 L606.7 414.4 L609.2 421.9 L616.7 424.4 L621.8 421.9 M642 434.4 L652 439.4 L660.8 449.4 L665.3 452.0 M660 495.3 L642 497.1 M642 391.8 L652 388.8 L660.8 391.3 M760.8 452 L762.3 446.9 L757.3 446.9 L759 452.0 M758.9 452 L756 444.4 L751 436.9 L757.3 424.4 L759.8 416.9 L767.3 409.3 L777.3 403.1 L789.9 399.3 L802.4 393 L812.4 395.6 L825 394.3 L832.5 401.8 L836.2 410.6 L842.5 416.9 L848.8 423.1 L846.3 427.4 L835 423.9 L817.4 423.1 L806.2 426.9 L807.4 434.4 L804.9 438.2 L792.4 435.7 L798.6 441.9 L804.9 449.4 L805.2 452.0 M820 466.8 L822.5 468.2 L820 474.0 M820 484.5 L825 485.8 L835 483.3 L842.5 487 L846.3 494.6 L840 500.8 L832.5 499.6 L825 497.1 L822.5 508.1 M911.4 399.3 L916.4 404.3 L920.2 400.6 L925.2 404.3 L930.2 398.1 L926.5 409.3 L932.7 424.4 L931.5 431.9 L925.2 436.9 L917.7 446.9 L908.9 451.9 L900.1 446.9 L892.6 449.4 L890.1 436.9 L890.1 426.9 L895.1 416.9 L907.7 410.6 L911.4 399.3 M908.9 417.4 L915.2 416.4 L913.9 419.9 L909.7 419.9 L908.9 417.4 M77.7 508 L71.4 525.5 L72.7 533.1 L79.7 535.6 L77.2 545.6 L76.4 555.6 L85.2 556.9 L94 555.6 L102.8 556.9 L107.8 563.1 L110.3 569.4 L116.5 571.9 L122.8 568.2 L135.3 564.4 L150.4 561.9 L160.4 561.9 L165.4 554.4 L175.4 548.1 L183 538.1 L185.5 531.8 L181.7 525.5 L181.7 518 L186.7 508.0 M213 518 L220.6 513.5 L225.6 516.8 L221.8 523 L213 518.0 M199.7 526.8 L203 527.5 L201.3 530.6 L199.7 526.8 M231.8 511.8 L235.6 511 L235.1 514.3 L231.8 511.8 M287 508 L285.7 520.5 L290.7 529.3 L299.5 525.5 L300.6 517.0 M300 511 L299.5 508.0 M116.5 572.7 L120.3 579.4 L130.3 585.7 L140.4 583.2 L155.4 586.9 L160.4 588.2 L170.4 583.2 L175.4 576.9 L185.5 573.7 L200.5 565.6 L218 561.9 L238.1 559.4 L248.1 563.1 L260.7 556.9 L265.7 559.4 L275.7 558.1 L288.2 559.4 L298.2 554.4 L304.5 553.1 L310.8 560.6 L317 558.1 L315.8 564.4 L310.8 568.2 L314.5 580.7 L310.8 593.2 L303.3 602 L304.5 608.3 L313.3 605.7 L321.1 615.8 M310.8 604.5 L313.3 606.2 L312 608.8 L310.8 604.5 M116.5 572.7 L111.5 578.2 L107.8 590.7 L100.3 603.2 L82.7 612 L72.7 624.5 L67.7 635.8 L63.9 645.8 L66.4 658.4 L60.2 669.7 L45.1 680.9 L27.6 689.7 L18.8 701 L7.5 711 L4.9 721.0 M10 687.2 L15 678.4 L16.3 679.7 L12.5 687.2 L10 687.2 M17 673.4 L19.5 672.2 L18.8 675.2 L17 673.4 M334.8 540.6 L348.6 539.3 L371.1 539.3 L374.9 545.6 L369.9 549.4 L367.4 561.9 L358.6 558.1 L346.1 550.6 L336 545.6 L334.8 540.6 M377.7 517 L378.6 518 L381.2 528.1 L374.9 538.1 L372.4 533.1 L374.9 523 L371.1 517.0 M357.6 574.4 L359.3 574.4 L358.6 576.2 L357.6 574.4 M468.9 583.2 L481.4 581.9 L496.4 584.4 L502.7 586.9 L496.4 589.5 L483.9 588.7 L471.4 587.7 L468.9 583.2 M560 641.2 L556.6 644.6 L546.6 643.3 L534 645.8 L521.5 643.3 L511.5 640.8 L496.4 638.3 L486.4 637.1 L483.9 633.3 L471.4 629.6 L461.4 627 L451.3 624.5 L438.8 620.8 L431.3 623.3 L422.5 633.3 L425 643.3 L423.8 650.9 L416.2 654.6 L403.7 648.4 L386.2 644.6 L371.1 638.3 L364.9 627 L351.1 619.5 L343.6 618.3 L333.5 619.5 L321 618.3 M578.9 657 L580.4 660.9 L586.7 678.4 L594.2 693.5 L597.9 708.5 L603.4 721.0 M581 657 L581.7 658.4 L590.4 675.9 L599.2 689.7 L603 688.5 L605.5 675.9 L606.7 660.9 L609.2 683.4 L621.8 701 L634.3 721.0 M820 562 L822.5 561.9 L835 560.1 L840 559.4 L837.5 550.6 L838.7 538.1 L835 528.1 L836.2 519.3 L830 513 L833.7 510.5 L827.5 508.0 M762.3 668.4 L772.3 661.4 L776.1 653.4 L782.4 655.9 L788.6 659.6 L782.4 662.1 L774.8 668.4 L769.8 673.4 L772.3 683.4 L778.6 691 L787.4 701 L791.1 711 L795.3 721.0 M799.4 721 L802.4 713.5 L807.4 716 L807.9 721.0 M855.1 721 L860 716 L866.3 712.3 L862.6 721.0 M787.4 658.4 L794.9 668.4 L804.9 688.5 L817.4 693.5 L832.5 706 L847.5 708.5 L862.6 702.2 L870.1 701 L875.1 708.5 L880.1 718.5 L888.3 721.0 M853.8 708.5 L862.6 703.5 M3.5 727.6 L5.6 721.0 M3.5 908 L7.5 918 L15 925.6 L20.1 928.6 M601.8 721 L604.2 725.1 L611.7 742.6 L614.2 753.9 L630.5 768.9 L631.8 777.7 L634.3 782.7 L634.3 805.3 L638 811.5 L642.1 812.8 M629.7 721 L631.8 725.1 L639.3 737.6 L642.1 738.8 M642 738.8 L649.5 746.4 L654.5 757.6 L655.8 772.7 L659.5 782.7 L669.6 790.2 L679.6 802.8 L685.9 815.3 L694.6 825.3 L700.9 837.8 L702.2 855.4 L705.9 872.9 L708.4 884.2 L709.7 893 L703.4 900.5 L700.9 903 L707.2 904.3 L714.7 913 L724.7 916.8 L732.2 911.8 L742.3 909.3 L752.3 910.5 L759.8 905.5 L769.8 908 L772.3 904.3 L782.4 903 L792.4 899.2 L798.6 896 L803.7 900.5 L804.9 913 L799.9 918 L799.9 928.6 M708.4 886.7 L717.2 888 L727.2 884.2 L737.2 879.2 L747.3 877.9 L762.3 872.9 L772.3 871.7 L779.8 865.4 L789.9 860.4 L802.4 856.6 L814.9 850.4 L819.9 842.9 L832.5 836.6 L842.5 834.1 L852.5 830.3 L855 824.1 L862.6 820.3 L867.6 817.8 L872.6 810.3 M887.6 787.7 L892.6 789 L900.1 777.7 L907.7 765.2 L905.2 758.9 L897.6 750.1 L890.1 745.1 L886.4 746.4 M795.7 721 L798.6 725.1 L800.2 721.0 M807.9 721 L808.7 725.1 L806.2 737.6 L812.4 741.4 L822.5 740.1 L835 740.1 M865.3 721 L865.1 722.6 L866.3 732.6 L860 725.1 L850 727.6 L842.5 735.1 M888.9 721 L890.1 721.3 L902.7 723.8 L917.7 723.8 L931.5 726.3 L942.8 725.1 L963.1 723.8 M831.2 889.2 L837.5 887.5 L844.5 890 L838.7 893.5 L833.7 891.7 L831.2 889.2 M642 814 L649.5 819 L654.5 830.3 L659.5 840.4 L664.6 855.4 L669.6 857.9 L679.6 865.4 L692.1 875.4 L702.2 883 L708.4 886.7 M963 725.1 L975.5 723.8 L990.6 723.8 L994.3 732.6 L1003.1 743.9 L1010.6 750.1 L1018.1 757.6 L1025.7 762.7 L1035.7 756.4 L1034.4 753.9 L1025.7 760.2 L1019.4 763.9 L1023.2 772.7 L1033.2 780.2 L1043.2 785.2 L1053.2 782.7 L1058.2 775.2 L1058.2 771.4 M1062 771.4 L1064.5 785.2 L1065.8 805.3 L1070.8 830.3 L1075.8 847.9 L1083.3 860.4 L1088.3 875.4 L1095.8 895.5 L1103.4 913 L1110.9 928.6 M1277.5 771.4 L1266.3 772.7 L1253.7 773.9 L1241.2 775.2 L1237.4 782.7 L1233.7 792.7 L1223.7 800.3 L1213.6 807.8 L1203.6 817.8 L1193.6 825.3 L1183.6 835.3 L1176 839.1 L1168.5 845.4 L1161 850.4 L1156 860.4 L1154.7 875.4 L1153.5 895.5 L1146 908 L1140.9 920.6 L1139.7 928.6 M1153.5 910.5 L1158.5 923.1 L1163.5 928.6 M642.5 399.3 L646.9 398.2 L648.8 400.7 L642.5 401.9 L645.1 404.4 L650.1 408.8 L648.2 410.1 L642.5 416.3 M642.5 391.9 L648.8 390.7 L657.6 389.4 L660.1 391.9 M522.9 463 L522.2 467.5 L517.8 471.9 L520.3 476.3 L523.4 480.7 L525.3 485.7 L530.3 489.4 L536.6 492 L542.9 493.2 L550.4 493.8 L560 494.1 M536.6 492 L537.8 497 L546 500.1 L540.4 499.8 L535.3 503.2 L529.1 504.5 L522.8 503.9 L517.8 505.7 L511.5 503.9 L507.8 503.9 L502.8 510.1 L502.1 506.4 L507.8 501.4 L500.3 502 L499 498.8 L492.7 497.6 L486.5 496.3 L480.2 497.6 L475.2 499.5 L470.8 502 L475.2 503.9 L478.3 508.2 L474.6 506.4 L472.7 510.8 L468.9 508.2 L470.2 512 L467 509.5 L461.4 502.6 L457.6 503.9 L457 510.1 L458.9 515.1 L463.3 520.8 L465.8 523.9 L462.7 527.7 L457 528.9 L465.2 532.1 L473.9 536.4 L482.7 542.7 L486.7 546.5 L485.2 548.3 L480.2 545.2 L475.2 540.2 L470.2 537.7 L465.2 532.7 L461.4 530.2 M418.8 496.3 L416.3 500.1 L417.5 506.4 L422.6 511.4 L425.7 517.6 L428.8 520.2 L433.8 527.7 L436.3 527.7 L438.8 528.9 L437.6 532.7 L440.1 537.7 L445.1 538.3 L450.1 537.7 L455.1 538.3 L460.2 540.2 L463.9 542.7 L467.7 546.5 L471.4 545.2 L475.2 542.7 L474.6 547.7 L470.2 546.5 L465.2 547.7 L463.9 552.7 L461.4 551.5 L460.2 553.4 L463.9 559 L463.3 566.5 L457.6 562.8 L455.1 567.1 L450.1 559 L445.1 560.3 L444.5 555.2 L441.4 549 L439.5 545.2 L441.4 540.2 L440.1 537.7 M430.7 538.3 L433.2 537.1 L435.7 540.2 L433.2 542.1 L430.7 538.3 M421.9 516.4 L424.4 515.1 L426.3 518.9 L423.8 520.2 L421.9 516.4 M435.1 527 L437.6 526.4 L439.1 528.9 L436.6 529.9 L435.1 527.0 M486.5 513.9 L489.6 512.6 L490.2 515.1 L487.7 515.8 L486.5 513.9 M480.8 499.5 L483.3 498.8 L484 502 L481.5 502 L480.8 499.5 M497.7 533.9 L500.3 533.9 L500 539.2 L497.7 539.6 L497.7 533.9 M491.2 556.5 L493.4 556.5 L493.4 560.9 L491.5 560.9 L491.2 556.5 M520.3 570.9 L526.6 567.1 L525.3 570.9 L520.9 575 L520.3 570.9 M502.8 510.1 L500.3 515.1 L501.5 520.2 L497.7 523.9 L500.3 525.2 L504 520.2 L509 518.9 L506.5 525.2 L510.3 528.3 L507.8 532.7 L512.2 535.8 L506.5 535.2 L504 533.3 L503.4 537.7 L507.8 540.2 L511.5 541.5 L514 547.7 L516.5 549.6 L514.7 552.7 L517.8 556.5 L521.6 559 L527.2 557.7 L524.1 560.3 L517.2 563.4 L523.4 562.1 L525.3 564 L529.1 560.9 L532.8 561.5 L535.3 563.4 L537.8 567.8 L542.9 570.3 L547.9 570.9 L552.9 569 L554.8 561.5 L560 560.3 M400 500.1 L403.8 506.4 L406.3 510.1 L404.4 513.9 L401.3 511.4 M300 443.2 L305 446.4 L308.1 452.6 L311.3 461.4 L312.6 463.0 M348.2 416.3 L341.4 418.2 L335.1 420.7 L331.3 423.2 L332 427.6 L334.5 429.4 L332.6 432.6 L332.8 442.6 L337.6 446.4 L342.6 450.1 L347.6 453.3 L349.5 458.9 L351 463.0 M348.2 416.3 L347 420.7 L348.9 426.9 L352.6 432 L355.8 426.3 L358.9 424.4 L362 426.9 L363.3 433.2 L365.2 436.3 L369.5 441.4 L366.4 442.6 L369.5 447 L373.9 450.1 L377.7 453.9 L385.2 454.5 L390.2 457.6 L393.4 461.4 L395 463.0 M355.8 426.3 L357 431.3 L358.3 435.7 L358.9 428.8 L361.4 430.1 M381.5 457 L386.5 457.6 L387.7 458.9 L382.7 458.3 M388.7 463 L390.2 462.7 L394 462 L392.8 463.0 M312.6 463 L317.5 468.9 L318.8 472.7 L321.9 472.1 L326.9 478.3 L331.3 480.2 L333.8 486.5 L341.4 490.2 L348.9 491.5 L352.6 497.7 L357.6 500.3 L363.9 504 L368.3 512.2 L373.9 517.0 M351 463 L351.4 463.9 L353.9 469.5 L358.9 474.6 L363.9 478.3 L368.3 482.1 L372.7 480.2 L378.3 480.2 L377.7 485.2 L375.2 486.5 L377.7 490.2 L385.2 492.7 L392.7 496.5 L399 500.3 L400 501.1 M400 508.8 L397.7 506.5 L392.7 506.5 L387.7 509 L385.2 512.8 L386.5 517.0 M395 463 L397.1 465.2 L400 467.5 M384.6 463.9 L388.7 463.0 M392.8 463 L390.9 464.5 L385.2 464.5 M395.2 505.9 L400 507.7 M143.3 148.1 L146.5 146.9 L147.7 150.7 L152.1 151.9 L147.7 152.5 L144 155.7 L142.1 153.8 L143.3 148.1 M124.5 160.7 L131.4 161.9 L137.7 160.7 L145.2 158.8 L147.1 161.3 L145.2 167.6 L140.2 171.3 L135.2 176.3 L133.3 178.8 L137.7 177.6 L135.2 180.1 L132.7 181.4 L134.6 185.1 L137.1 182.6 L145.2 180.7 L152.7 181.4 L160.3 180.7 L162.1 185.1 L160.9 190.1 L158.4 192.6 L157.1 197.6 L155.9 201.4 L152.7 205.2 L150.2 208.3 L152.7 212.7 L147.7 213.9 L144 215.8 L145.2 218.9 L150.2 218.3 L155.2 220.2 L160.3 225.2 L164.6 228.3 L165.9 239 L169 245.3 L171.5 249.6 L175.9 250.3 L179 254 L180.9 257.0 M124.5 160.7 L122 166.3 L118.9 170.1 L120.8 173.8 L117 177.6 L113.9 180.1 L114.5 183.9 L113.9 188.2 L117.6 188.9 L117 193.9 L113.9 195.1 L113.9 198.9 L113.3 202.7 L109.5 203.3 L112 205.2 L115.1 207.7 L118.9 205.2 L120.8 204.5 L118.9 210.2 L117.6 215.2 L116.4 220.2 L118.9 217.7 L121.4 213.9 L122.7 220.2 L125.2 217.7 L127.7 219.6 L125.2 224 L125.8 230.2 L127.7 234 L125.2 237.1 L122.7 240.3 L121.4 244 L123.9 247.8 L125.2 242.8 L127.7 244 L131.4 244 L136.4 243.4 L141.5 241.5 L146.5 241.5 L142.7 245.3 L140.2 250.3 L141.5 255.3 L143.9 257.0 M98.2 170.1 L102.6 165.1 L108.2 163.2 L108.9 168.2 L105.1 172 L107 174.5 L100.7 180.1 L98.2 176.3 L98.2 170.1 M93.2 182.6 L97.6 182.4 L97.8 184.5 L93.8 184.9 L93.2 182.6 M102.6 187 L107 181.4 L110.1 187.6 L112.6 191.4 L115.1 193.9 L112 195.8 L107.6 192.6 L105.1 188.9 L102.6 187.0 M109.5 203.3 L108.2 207.7 L111.4 208.9 L113.9 206.4 M106.4 212.1 L110.1 213.9 L115.1 210.8 M105.1 224 L107 222.1 L111.4 220.2 L113.9 216.4 L112.6 221.5 L110.1 226.5 L107.6 227.7 L105.7 226.5 M115.1 221.5 L115.8 227.7 L114.5 232.7 L117 234 L118.9 227.7 L120.2 221.5 L122 215.2 L121.4 226.5 L123.9 229 L125.2 220.2 M65 254.7 L72.5 255.3 L78.8 252.2 L85.1 250.3 L78.2 248.4 L78.8 245.3 L82.6 243.4 L82.6 239.6 L86.9 236.5 L92 235.9 L96.3 233.4 L100.1 235.2 L96.3 239 L101.4 236.5 L106.4 235.9 L110.1 237.7 L113.3 240.3 L113.9 246.5 L115.8 249 L117.6 251.5 L115.2 257.0 M128.3 255.3 L130.8 253.4 L131.4 257.0 M250.1 151.3 L251.3 157.5 L256.3 162.6 L262.6 168.8 L266.4 171.3 L268.9 175.1 L275.1 173.8 L280.1 168.8 L285.2 163.8 L290.2 157.5 L295.2 152.5 L298.9 148.8 L305.2 146.9 L307.4 143.0 M313.2 143 L316.5 146.3 L317.7 153.8 L317.7 161.3 L320.9 166.3 L324 170.1 L325.3 176.3 L327.8 180.1 L325.3 186.4 L329 190.1 L330.3 196.4 L335.3 201.4 L338.4 205.8 L337.8 208.9 L335.3 210.2 L335.9 213.9 L334 215.2 L335.9 220.2 L339 225.2 L337.2 230.2 L342.8 230.2 L350.3 229.6 L354.1 227.7 L355.3 221.5 L356 217.7 L361.6 213.9 L367.9 213.9 L374.7 213.9 L377.3 208.9 L379.8 202.7 L381.6 196.4 L380.4 190.1 L382.3 181.4 L381.6 175.1 L383.5 170.1 L385 162.7 M377.9 158.8 L382.9 158.8 L385 160.0 M380.4 212.7 L382.3 205.2 L383.5 198.9 L385 195.2 M285.2 195.1 L292.7 192.6 L298.9 190.1 L303.9 182.6 L309 180.7 L310.2 190.1 L306.5 196.4 L305.2 202.7 L305.2 207.7 L310.2 207 L314.6 208.9 L313.3 213.9 L307.7 215.2 L305.2 217.7 L305.2 222.7 L300.2 225.2 L301.4 229 L298.3 230.2 L297.7 236.5 L296.4 240.3 L300.2 241.5 L303.9 247.8 L302.7 251.5 L307.1 253.4 L311.5 252.8 L315.2 252.8 L315.2 257.0 M285.2 195.1 L281.4 203.9 L280.1 215.2 L281.4 226.5 L286.4 230.2 L287.7 239 L287.7 244 L290.2 249 L291.4 251.5 L287.7 254 L288.9 257.0 M302.1 227.7 L305.2 226.5 L311.5 227.7 L313.3 230.2 L314 235.2 L316.5 236.5 L315.2 240.3 L312.1 239 L307.7 238.4 L305.2 236.5 L302.7 232.7 L302.1 227.7 M315.9 224 L321.5 222.1 L325.3 218.9 L330.3 215.2 L334 215.2 L335.3 220.2 L336.5 225.2 L334 230.2 L333.4 234 L330.3 239 L325.3 236.5 L321.5 235.2 L319 232.7 L318.4 227.7 L315.9 224.0 M321.5 218.9 L325.3 218.3 L329 220.2 L329 225.2 L325.9 224.0 M312.7 242.8 L317.7 240.3 L324 241.5 L330.3 240.3 L330.9 244 L327.8 247.8 L324 246.5 L320.2 245.3 L315.2 245.3 L312.7 242.8 M359.7 235.9 L361.6 233.4 L364.7 236.5 L364.1 239.6 L361 238.4 L359.7 235.9 M327.2 257 L332.8 251.5 L339 252.2 L342.2 254.7 L343.4 247.8 L347.2 250.3 L346.6 254 L351.6 255.3 L356.6 252.8 L362.8 251.5 L372.9 255.3 L379.1 251.5 L385 248.4 M664.7 452 L668.8 455.6 L677.5 459.4 L683.8 462.5 L686.3 468.8 L689.4 478.8 L688.8 483.2 L686.3 487 L681.3 490.1 L675 493.9 L667.5 495.4 L660 494.5 M758.1 452 L759 456.3 L758.4 461.9 L762.8 466.9 L766.5 470.7 L767.8 476.9 L774 482 L779 491.4 L780.3 495.7 L785.3 498.9 L790.3 502 L793.5 504.5 L790.3 507 L784.1 510.2 M758.5 452 L760.3 453.8 L761.6 452.0 M804.9 452 L805.4 457.5 L809.1 460.7 L814.1 462.5 L820 466.3 M820 472.8 L819.1 482.6 M776.5 540.9 L777.2 546.5 L780.3 549.6 L786.6 551.5 L791.6 552.8 L795.3 557.8 L800.4 560.9 L806.6 564 L820 563.4 M575 588.9 L585.1 583.9 L595.1 581.4 L602.6 578.2 L603.9 580.1 L600.1 582.6 L597.6 587.6 L591.3 590.1 L587.6 592.6 L582.6 594.5 L578.8 592.6 L575 588.9 M560 560.1 L565 560.7 L575 566.3 L582.6 573.2 L591.3 570.7 L597.6 566.3 L603.9 561.3 L610.1 562.6 L615.1 565.1 L618.9 561.3 L621.4 560.7 L622.7 563.8 L620.2 565.7 L618.9 571.3 L620.2 581.4 L621.4 590.1 L620.2 593.9 L615.1 601.4 L610.1 610.2 L607.6 617.7 L605.1 626.5 L602.6 632.7 L600.1 639 L596.3 642.8 L588.8 645.9 L581.3 645.3 L575 642.8 L570 639 L566.3 640.3 L560 639.6 M566.3 640.3 L567.5 644 L572.5 646.5 L573.8 652.8 L575 657.0 M268 56.4 L272.4 57 L274.8 60.1 L271.1 61.3 L268.6 60.7 L263.6 60.1 L259.9 61.3 L262.4 63.8 L258.6 64.5 L261.8 68.2 L262.4 71.3 L258.6 69.4 L256.2 67 L253.7 67.6 L255.5 70.7 L253.7 73.8 L257.4 75.1 L255.5 76.9 L249.9 73.8 L245.6 74.4 L246.8 78.2 L249.9 78.8 L255.5 77.5 L260.5 79.4 L256.2 81.3 L251.8 80 L247.4 81.9 L243.7 81.3 L243.7 84.4 L246.8 86.9 L244.9 90.6 L245.6 95.6 L244.3 100 L240.6 99.4 L240.6 102.5 L243.7 101.8 L244.9 106.8 L247.4 108.1 L245.6 110.6 L251.8 111.2 L248.7 114.3 L247.4 118 L249.3 121.8 L252.4 123.7 L254.9 121.8 L258.6 116.8 L262.4 111.8 L266.1 114.3 L268 113.1 M261.1 95.6 L264.9 94.4 L268.6 93.1 L272.4 89.4 L274.2 88.8 L273 92.5 L274.8 96.2 L271.7 98.1 L268.6 97.5 L269.9 101.2 L268.6 105 L266.1 101.8 L262.4 100 L260.5 97.5 L261.1 95.6 M385 119.3 L380.8 121.8 L378.9 123 L382 123.7 L385 122.4"/>
<path class="grid" stroke-dashoffset="2.5" d="M61.5 52.5V930.5M183.5 52.5V930.5M304.5 52.5V930.5M425.5 52.5V930.5M547.5 52.5V930.5M668.5 52.5V930.5M790.5 52.5V930.5M911.5 52.5V930.5M1032.5 52.5V930.5M1154.5 52.5V930.5M1275.5 52.5V930.5"/>
<path class="grid" stroke-dashoffset="3.5" d="M3.5 126.5H1281.5M3.5 339.5H1281.5M3.5 512.5H1281.5M3.5 660.5H1281.5M3.5 795.5H1281.5M3.5 920.5H1281.5"/>
<path class="cb" d="M667.0 393.8A7.3 7.3 0 0 1 681.4 395.1A11.6 11.6 0 0 1 698.9 410.1A6.5 6.5 0 1 1 705.2 421.4A11.0 11.0 0 0 1 694.5 440.1A7.6 7.6 0 0 1 683.9 450.8A10.7 10.7 0 1 1 667.0 463.9A7.1 7.1 0 1 1 653.2 460.8A10.9 10.9 0 0 1 643.2 441.4A8.6 8.6 0 0 1 650.1 425.7A7.2 7.2 0 0 1 658.2 413.8A11.0 11.0 0 0 1 667.0 393.8Z"/>
<path class="cb" d="M447.7 583.8A7.3 7.3 0 1 1 462.1 585.2A10.7 10.7 0 0 1 479.4 597.9A7.5 7.5 0 0 1 478.5 612.8A10.6 10.6 0 0 1 459.3 621.7A7.4 7.4 0 0 1 444.9 620.7A10.6 10.6 0 1 1 436.0 601.6A10.6 10.6 0 1 1 447.7 583.8Z"/>
<path class="cb" d="M1149.4 810.6A11.7 11.7 0 0 1 1163.1 792.3A7.5 7.5 0 0 1 1177.8 789.2A10.0 10.0 0 1 1 1189.5 805.5A7.4 7.4 0 1 1 1183.9 819.2A11.0 11.0 0 0 1 1173.3 838.5A6.6 6.6 0 0 1 1167.2 850.2A11.4 11.4 0 1 1 1144.8 846.1A10.9 10.9 0 0 1 1148.9 824.8A7.2 7.2 0 0 1 1149.4 810.6Z"/>
<path class="cb" d="M976.2 931.0A10.9 10.9 0 1 1 992.4 917.2A7.8 7.8 0 0 1 1006.7 911.0A18.4 18.4 0 0 1 1038.5 894.8A10.8 10.8 0 1 1 1053.5 880.5A8.2 8.2 0 1 1 1059.7 865.5A10.6 10.6 0 1 1 1079.6 858.7A7.6 7.6 0 1 1 1094.0 863.6A10.2 10.2 0 0 1 1114.3 863.0A7.5 7.5 0 0 1 1127.9 856.8A9.0 9.0 0 0 1 1145.6 855.0A13.9 13.9 0 0 1 1143.8 881.0A9.8 9.8 0 1 1 1152.1 898.7A7.6 7.6 0 0 1 1163.3 909.0A12.4 12.4 0 0 1 1174.5 931.0"/>
<path class="cb" d="M1286.0 709.0A17.5 17.5 0 0 0 1275.0 741.0A23.2 23.2 0 0 0 1247.9 771.2A15.4 15.4 0 0 0 1252.5 797.2"/>
<path class="cb" d="M1252.5 797.2L1262 802.5L1272 804L1260 805.6"/>
<path class="cb" d="M1260.0 805.6A9.9 9.9 0 0 0 1261.8 823.3A6.4 6.4 0 1 0 1252.9 832.3A11.1 11.1 0 0 0 1233.9 843.8A7.3 7.3 0 1 0 1219.6 846.6A10.8 10.8 0 0 0 1198.5 841.9A14.9 14.9 0 0 0 1191.1 870.8A6.9 6.9 0 1 0 1192.9 884.4A11.2 11.2 0 0 0 1197.6 906.2A7.2 7.2 0 0 0 1205.0 918.3A20.8 20.8 0 0 0 1204.1 931.0"/>
<path class="ld" d="M1138.4 352.4 L914 396.8 L930.2 373.7 L679.6 422.4"/>
<path class="ld" d="M688.4 411.3 L679.6 422.4 L692 432.4"/>
<path class="ld" d="M138.6 819 L288.2 707 L282.7 735.8 L457 605.3"/>
<path class="ld" d="M442 600.2 L457 605.3 L454.7 618.9"/>
<path class="ld" d="M886.6 775.2 L1027.7 783.5 L1005.1 802 L1169.7 811.1"/>
<path class="ld" d="M1161.1 798.9 L1169.7 811.1 L1158 820.7"/>
<path class="ld" d="M946 856.6 L1104.6 846.6 L1083.3 867.4 L1266.5 854.4"/>
<path class="ld" d="M1256.2 844.2 L1266.5 854.4 L1257.2 865.2"/>
<path class="ld" d="M946 860.4 L1016.4 868.4 L993 883.7 L1088.3 893.0"/>
<path class="ld" d="M1080.3 881 L1088.3 893 L1077 901.3"/>
<path class="cat" d="M442.0 301.0Q432.5 306.6 432.5 316.6M428.8 332.9L420.7 351.7M416.2 366.7L415.0 386.8M411.2 403.0L406.2 423.0M396.2 435.7L386.2 455.7M381.9 474.5L377.4 494.5M371.1 509.3L369.9 531.8M372.4 541.8L376.1 546.8M384.9 558.1Q393.7 561.9 407.5 559.4M461.3 305.3Q468.9 311.6 471.4 325.4M468.9 342.2L461.3 361.7M457.6 378.0L451.3 398.8M444.3 415.6L438.3 434.4M436.3 464.5L435.8 473.2M433.8 488.3Q426.3 508.0 425.0 511.8M420.0 523.0Q416.2 535.6 416.7 546.8M236.8 110.3Q230.0 125.3 231.8 134.0M248.1 100.3L268.2 86.5M279.5 79.7L302.0 72.7M317.0 70.2Q321.0 70.6 338.5 73.1M351.6 77.6L373.1 85.1M385.7 95.1L401.7 110.7M413.7 117.2L435.0 130.7M442.6 141.5L456.3 160.3M461.9 177.3L462.9 200.4M452.5 209.3L431.0 207.0M398.7 156.3L374.9 138.8M323.8 134.4Q310.0 139.0 301.9 146.3M288.8 154.0L267.5 162.5M252.5 160.6L232.5 146.9M753.5 479.5Q764.0 473.0 773.6 471.5M789.5 470.0Q800.0 473.0 808.7 479.5M823.7 484.5L846.3 482.0M858.8 492.0Q870.0 508.0 871.0 513.0M871.3 528.0Q868.8 539.3 858.8 541.8M842.5 538.6L822.5 547.6M808.7 558.1L794.9 574.4M788.6 588.2Q787.4 603.2 779.8 609.5M766.1 610.8L743.5 602.7M733.5 593.2L729.7 589.5M726.0 581.9L717.2 558.1M718.0 545.6Q720.0 534.0 727.0 522.5M735.5 512.0Q742.0 504.0 748.0 493.5M1099.6 425.1L1122.2 422.4M1137.7 423.6L1161.0 430.6M1173.0 436.4L1191.6 449.4M1202.3 460.0Q1216.1 473.2 1218.1 481.5M1209.9 490.0L1186.0 494.6M1171.5 499.0Q1159.7 508.0 1154.7 514.3M1143.0 528.0Q1135.4 539.3 1136.0 550.6M1149.0 558.1L1172.3 564.4M1186.8 565.6Q1199.8 565.1 1208.6 560.6M1221.1 552.6L1241.2 541.1M1255.7 537.3L1277.5 540.1M1065.8 441.4L1085.8 430.6M1054.5 453.2L1045.7 475.8M1042.7 490.8Q1036.9 508.0 1034.4 513.0M1029.4 526.8L1020.6 545.6M1010.6 558.1L989.3 565.1M974.3 568.9L965.5 575.7M957.0 606.0Q958.0 615.0 960.4 624.5M968.5 636.3L988.0 652.9M1004.4 656.4Q1014.4 653.4 1023.2 644.6M1034.4 632.6Q1045.7 629.0 1057.0 630.8M1069.5 637.0L1089.6 649.6M1104.6 653.4L1127.2 657.1M1139.7 658.4L1163.5 666.4M1178.5 672.9L1199.8 682.2M1213.6 686.0L1237.4 688.5M1250.0 691.0L1271.3 701.5M5.5 384.8Q11.3 391.8 15.0 403.0M921.4 928.0L942.8 920.0M955.3 914.3L976.8 906.0M990.6 900.0L1006.9 894.2M1027.0 920.5L1030.7 929.0M1070.8 928.0L1084.6 913.0M1094.6 900.5L1109.6 886.7M1120.9 877.9L1142.2 870.4M1154.7 866.7L1178.5 859.1M1189.8 851.1L1207.4 841.6M1219.9 831.6L1236.2 816.5M1246.2 807.3L1266.3 796.5M1230.2 873.6Q1232.0 869.0 1236.7 867.6M1252.5 872.7Q1261.8 875.5 1274.9 876.4M1236.7 920.1Q1243.2 910.8 1246.9 904.3"/>
<rect class="bx" x="426.5" y="666.5" width="40.0" height="24.0"/>
<text class="bt" x="446.5" y="684.8">500</text>
<rect class="bx" x="245.5" y="179.5" width="39.0" height="24.0"/>
<text class="bt" x="265.0" y="197.8">350</text>
<rect class="bx" x="166.5" y="324.5" width="39.0" height="24.0"/>
<text class="bt" x="186.0" y="342.8">400</text>
<rect class="bx" x="423.5" y="439.5" width="39.0" height="24.0"/>
<text class="bt" x="443.0" y="457.8">350</text>
<rect class="bx" x="702.5" y="456.5" width="39.0" height="24.0"/>
<text class="bt" x="722.0" y="474.8">400</text>
<rect class="bx" x="20.5" y="570.5" width="39.0" height="24.0"/>
<text class="bt" x="40.0" y="588.8">450</text>
<rect class="bx" x="14.5" y="619.5" width="39.0" height="24.0"/>
<text class="bt" x="34.0" y="637.8">500</text>
<rect class="bx" x="235.5" y="581.5" width="39.0" height="24.0"/>
<text class="bt" x="255.0" y="599.8">450</text>
<rect class="bx" x="204.5" y="619.5" width="39.0" height="24.0"/>
<text class="bt" x="224.0" y="637.8">500</text>
<rect class="bx" x="343.5" y="598.5" width="39.0" height="24.0"/>
<text class="bt" x="363.0" y="616.8">400</text>
<rect class="bx" x="525.5" y="598.5" width="39.0" height="24.0"/>
<text class="bt" x="545.0" y="616.8">400</text>
<rect class="bx" x="584.5" y="723.5" width="39.0" height="24.0"/>
<text class="bt" x="604.0" y="741.8">550</text>
<rect class="bx" x="471.5" y="803.5" width="39.0" height="24.0"/>
<text class="bt" x="491.0" y="821.8">550</text>
<rect class="bx" x="773.5" y="662.5" width="39.0" height="24.0"/>
<text class="bt" x="793.0" y="680.8">550</text>
<rect class="bx" x="1045.5" y="746.5" width="39.0" height="24.0"/>
<text class="bt" x="1065.0" y="764.8">550</text>
<rect class="bx" x="1238.5" y="745.5" width="39.0" height="24.0"/>
<text class="bt" x="1258.0" y="763.8">550</text>
<path class="jt" stroke-width="4.0" stroke-linecap="butt" d="M-2.0 351.0C-1.1 350.1 -3.0 352.1 3.5 345.6C10.0 339.1 25.8 322.9 37.0 312.0C48.2 301.1 62.5 288.3 71.0 280.0C79.5 271.7 84.1 265.8 87.7 262.0C91.3 258.2 88.9 260.6 92.6 257.0C96.3 253.4 104.0 245.8 110.1 240.3C116.1 234.8 122.6 229.0 128.9 224.0C135.2 219.0 141.4 214.7 147.7 210.2C154.0 205.7 160.6 201.0 166.5 197.0C172.4 193.0 177.6 190.4 183.4 186.4C189.2 182.4 195.5 177.5 201.6 173.2C207.7 168.9 215.2 163.8 220.0 160.7C224.8 157.6 227.2 156.8 230.6 154.8C234.0 152.8 237.3 150.2 240.6 148.5C243.9 146.8 246.0 146.4 250.6 144.7C255.2 143.0 260.5 140.9 268.2 138.5C275.9 136.1 288.2 132.1 297.0 130.5C305.8 128.9 313.7 128.7 321.0 128.8C328.3 128.9 334.3 129.8 341.0 131.0C347.7 132.2 354.3 133.2 361.0 136.0C367.7 138.8 375.2 143.5 381.0 147.5C386.8 151.5 391.4 155.4 396.0 160.0C400.6 164.6 404.3 169.6 408.5 175.0C412.7 180.4 417.2 186.2 421.0 192.5C424.8 198.8 428.3 205.8 431.0 212.5C433.7 219.2 435.4 225.8 437.0 232.5C438.6 239.2 439.7 245.7 440.5 252.5C441.3 259.3 442.3 265.8 442.0 273.5C441.7 281.2 440.0 288.1 438.8 299.0C437.6 309.9 436.7 326.5 435.0 339.0C433.3 351.5 431.3 363.2 428.8 374.0C426.3 384.8 423.4 394.0 420.0 404.0C416.6 414.0 412.0 423.9 408.7 434.0C405.4 444.1 402.3 455.2 400.0 464.5C397.7 473.8 396.1 482.2 395.0 489.5C393.9 496.8 393.6 498.6 393.5 508.0C393.4 517.4 393.8 536.0 394.2 545.6C394.6 555.2 394.8 559.0 396.2 565.7C397.6 572.4 399.6 579.0 402.5 585.7C405.4 592.4 410.4 601.2 413.7 605.8C416.9 610.4 420.6 612.2 422.0 613.5"/>
<path class="jt" stroke-width="3.7" stroke-linecap="round" d="M297.5 688.9C300.0 689.4 307.6 691.1 312.6 691.6C317.6 692.1 322.6 692.1 327.6 692.0C332.6 691.9 337.6 691.3 342.6 690.8C347.6 690.3 352.7 689.7 357.7 688.9C362.7 688.1 367.7 687.0 372.7 686.1C377.7 685.2 382.7 684.2 387.7 683.2C392.7 682.2 397.8 681.0 402.8 679.8C407.8 678.6 412.8 677.4 417.8 676.1C422.8 674.8 427.5 673.5 432.9 672.0C438.3 670.5 444.6 668.8 450.0 667.0C455.4 665.2 460.3 663.2 465.0 661.5C469.7 659.8 474.2 658.2 478.0 656.9C481.8 655.6 486.2 654.4 487.8 653.9"/>
<path class="jt" stroke-width="4.1" stroke-linecap="round" d="M436.0 711.8C440.2 708.7 452.7 699.0 461.0 693.0C469.3 687.0 477.7 681.2 486.0 675.5C494.3 669.8 501.0 665.2 511.0 659.0C521.0 652.8 534.3 644.8 546.0 638.0C557.7 631.2 569.3 624.5 581.0 618.0C592.7 611.5 605.8 604.0 616.0 599.0C626.2 594.0 630.6 593.3 642.0 588.2C653.4 583.1 672.1 573.6 684.6 568.2C697.1 562.8 706.8 559.4 717.2 555.6C727.7 551.8 738.8 548.4 747.3 545.6C755.8 542.8 759.4 541.5 768.0 538.6C776.6 535.7 790.7 530.4 798.9 528.0C807.1 525.6 810.1 525.1 817.4 524.3C824.7 523.5 834.1 522.8 842.5 523.0C850.9 523.2 859.1 524.2 867.5 525.5C875.9 526.8 884.2 528.9 892.6 530.6C901.0 532.4 909.3 533.5 917.7 536.0C926.1 538.5 935.2 542.5 942.8 545.6C950.3 548.7 955.5 550.2 963.0 554.4C970.5 558.6 979.7 565.6 988.0 570.7C996.3 575.8 1004.6 581.0 1013.0 585.2C1021.4 589.4 1029.8 592.8 1038.2 595.7C1046.6 598.6 1054.9 600.7 1063.2 602.7C1071.5 604.7 1079.9 606.6 1088.3 607.7C1096.7 608.8 1105.1 609.2 1113.4 609.5C1121.8 609.8 1130.1 609.9 1138.4 609.5C1146.8 609.1 1155.1 608.2 1163.5 607.0C1171.9 605.8 1180.2 604.1 1188.6 602.0C1196.9 599.9 1205.2 597.4 1213.6 594.5C1221.9 591.6 1230.3 587.9 1238.7 584.4C1247.1 580.9 1256.2 576.8 1263.8 573.2C1271.3 569.6 1280.6 564.7 1284.0 563.0"/>
<path class="jt" stroke-width="4.2" stroke-linecap="butt" d="M1099.0 50.0C1099.5 50.8 1098.0 48.5 1101.8 55.0C1105.6 61.5 1117.1 81.0 1121.8 88.8C1126.5 96.6 1128.6 99.8 1130.0 102.0"/>
<path class="jf" d="M1236.7 929.5L1245 923L1254.4 918.3L1266.5 910.8L1278.6 904.3L1284 901.5L1284 906.5L1279.5 909L1265.6 917.4L1252.5 923.9L1250.7 929.5ZM1222.7 925.7L1226.8 929.5L1222.7 929.5Z"/>
<path class="jf" d="M428 619.5 L410.3 616.8 L424.8 601.3Z"/>
<path class="jf" d="M228.8 127.5 L237.5 149.5 L249.5 143.5Z"/>
<path class="jf" d="M241.3 122.3 L249.5 143.5 L262 138.5Z"/>
<path class="jh" d="M248.0 120.6L261.5 133.3 M255.6 118.1L268.1 130.6 M261.3 115.0L268.1 121.9"/>
<path class="jf" d="M344.4 108.1 L338.5 130.5 L351 132.5Z"/>
<path class="jf" d="M358.1 111 L351 132.5 L363.5 136.2Z"/>
<path class="jh" d="M366.3 114.4L368.8 137.5"/>
<path class="jf" d="M33.2 280.3 L49.5 298.2 L57.6 289.5Z"/>
<path class="jf" d="M42 272.3 L57.6 289.5 L68.3 280.1Z"/>
<path class="jh" d="M48.2 266.9L70.1 276.3"/>
<path class="jf" d="M465.6 253.4 L440.6 252.6 L442.4 266.2Z"/>
<path class="jh" d="M442.8 272.0L464.7 260.8 M442.8 278.5L465.6 267.4 M442.8 284.6L465.6 274.3 M442.4 290.6L464.7 280.9"/>
<path class="jf" d="M392.5 659.4 L397.1 682.6 L408.6 679.2Z"/>
<path class="jh" d="M399.0 659.4L413.4 677.0 M404.0 657.5L419.0 675.0 M410.3 656.3L425.3 673.2 M415.3 655.0L431.6 672.6"/>
<path class="jf" d="M473.3 647.6 L485.1 673.5 L500.9 665.3Z"/>
<path class="jf" d="M486.1 646.2 L498.7 665.1 L510.2 658.0Z"/>
<path class="jf" d="M473.3 647.6 L483.4 649.8 L489.4 651.9 L488.3 656.9Z"/>
<path class="jf" d="M561.3 600.1 L571.3 620.6 L583.2 614.2Z"/>
<path class="jf" d="M572.3 594.4 L583.2 614.2 L595.1 608.0Z"/>
<path class="jh" d="M578.8 592.5L598.9 606.3 M585.1 588.8L605.1 603.2"/>
<path class="jf" d="M1052.6 572.1 L1045.6 596.6 L1057.2 599.6Z"/>
<path class="jf" d="M1063.4 576 L1057.2 599.6 L1069.3 602.4Z"/>
<rect class="bx" x="268.5" y="111.5" width="30.0" height="29.0"/>
<text class="bt" x="283.5" y="132.3">2</text>
<rect class="bx" x="4.5" y="404.5" width="30.0" height="29.0"/>
<text class="bt" x="19.5" y="425.3">1</text>
<rect class="bx" x="399.5" y="469.5" width="30.0" height="29.0"/>
<text class="bt" x="414.5" y="490.3">3</text>
<rect class="bx" x="768.5" y="511.5" width="30.0" height="29.0"/>
<text class="bt" x="783.5" y="532.3">4</text>
<rect class="bx" x="955.5" y="577.5" width="31.0" height="29.0"/>
<text class="bt" x="971.0" y="598.3">3</text>
<rect class="bx" x="1007.5" y="880.5" width="30.0" height="29.0"/>
<text class="bt" x="1022.5" y="901.3">3</text>
<rect class="bx" x="1230.5" y="874.5" width="30.0" height="29.0"/>
<text class="bt" x="1245.5" y="895.3">3</text>
<rect class="bx" x="1138.5" y="311.5" width="51.0" height="71.0"/>
<text class="ob" x="1164.0" y="324.7">OCNL</text>
<text class="ob" x="1164.0" y="342.6">CB</text>
<text class="ob" x="1164.0" y="360.4">350</text>
<text class="ob" x="1164.0" y="378.2">XXX</text>
<rect class="bx" x="88.5" y="803.5" width="50.0" height="71.0"/>
<text class="ob" x="113.5" y="816.7">OCNL</text>
<text class="ob" x="113.5" y="834.6">CB</text>
<text class="ob" x="113.5" y="852.4">300</text>
<text class="ob" x="113.5" y="870.2">XXX</text>
<rect class="bx" x="835.5" y="738.5" width="51.0" height="71.0"/>
<text class="ob" x="861.0" y="751.7">OCNL</text>
<text class="ob" x="861.0" y="769.6">CB</text>
<text class="ob" x="861.0" y="787.4">510</text>
<text class="ob" x="861.0" y="805.2">XXX</text>
<rect class="bx" x="895.5" y="823.5" width="51.0" height="71.0"/>
<text class="ob" x="921.0" y="836.7">OCNL</text>
<text class="ob" x="921.0" y="854.6">CB</text>
<text class="ob" x="921.0" y="872.4">520</text>
<text class="ob" x="921.0" y="890.2">XXX</text>
<text class="fl" transform="translate(237.0 177.0) rotate(-29)" >FL330</text>
<text class="fl" transform="translate(240.5 200.0) rotate(-29)" >230/380</text>
<text class="fl" transform="translate(325.5 157.0) rotate(7)" >FL330</text>
<text class="fl" transform="translate(59.9 323.7) rotate(-44)" >FL330</text>
<text class="fl" transform="translate(413.0 247.3) rotate(82)" >FL330</text>
<text class="fl" transform="translate(388.2 709.8) rotate(-10.2)" >FL390</text>
<text class="fl" transform="translate(493.4 700.2) rotate(-30)" >FL440</text>
<text class="fl" transform="translate(576.3 648.9) rotate(-31)" >FL430</text>
<text class="fl" transform="translate(577.6 671.5) rotate(-29)" >330/490</text>
<text class="fl" transform="translate(1028.6 616.8) rotate(17)" >FL430</text>
<text class="gl" text-anchor="middle" x="61.3" y="70.8">10°W</text>
<text class="gl" text-anchor="middle" x="61.3" y="924.6">10°W</text>
<text class="gl" text-anchor="middle" x="183.3" y="70.8">0°E</text>
<text class="gl" text-anchor="middle" x="183.3" y="924.6">0°E</text>
<text class="gl" text-anchor="middle" x="304.3" y="70.8">10°E</text>
<text class="gl" text-anchor="middle" x="304.3" y="924.6">10°E</text>
<text class="gl" text-anchor="middle" x="425.3" y="70.8">20°E</text>
<text class="gl" text-anchor="middle" x="425.3" y="924.6">20°E</text>
<text class="gl" text-anchor="middle" x="547.3" y="70.8">30°E</text>
<text class="gl" text-anchor="middle" x="547.3" y="924.6">30°E</text>
<text class="gl" text-anchor="middle" x="668.3" y="70.8">40°E</text>
<text class="gl" text-anchor="middle" x="668.3" y="924.6">40°E</text>
<text class="gl" text-anchor="middle" x="790.3" y="70.8">50°E</text>
<text class="gl" text-anchor="middle" x="790.3" y="924.6">50°E</text>
<text class="gl" text-anchor="middle" x="911.3" y="70.8">60°E</text>
<text class="gl" text-anchor="middle" x="911.3" y="924.6">60°E</text>
<text class="gl" text-anchor="middle" x="1032.3" y="70.8">70°E</text>
<text class="gl" text-anchor="middle" x="1032.3" y="924.6">70°E</text>
<text class="gl" text-anchor="middle" x="1154.3" y="70.8">80°E</text>
<text class="gl" text-anchor="middle" x="1154.3" y="924.6">80°E</text>
<text class="gl" x="6.9" y="130.9">60°N</text>
<text class="gl" text-anchor="end" x="1276.5" y="130.9">60°N</text>
<text class="gl" x="6.9" y="343.9">50°N</text>
<text class="gl" text-anchor="end" x="1276.5" y="343.9">50°N</text>
<text class="gl" x="6.9" y="516.9">40°N</text>
<text class="gl" text-anchor="end" x="1276.5" y="516.9">40°N</text>
<text class="gl" x="6.9" y="664.9">30°N</text>
<text class="gl" text-anchor="end" x="1276.5" y="664.9">30°N</text>
<text class="gl" x="6.9" y="799.9">20°N</text>
<text class="gl" text-anchor="end" x="1276.5" y="799.9">20°N</text>
<rect class="bx" x="638.5" y="89.5" width="635" height="197"/>
<path class="ld" d="M1010.5 89.5V286.5"/>
<text class="lg" x="824.7" y="112.7" textLength="252.3" lengthAdjust="spacing">FIXED TIME PROGNOSTIC CHART</text>
<text class="lg" x="826" y="130.7" textLength="50.5" lengthAdjust="spacing">SIGWX</text>
<text class="lg" x="824.2" y="148.7" textLength="88.2" lengthAdjust="spacing">FL 250 - 630</text>
<text class="lg" x="824.7" y="166.7" textLength="201.2" lengthAdjust="spacing">VALID 12 UTC 30 MAY 2025</text>
<text class="lg" x="823.9" y="184.7" textLength="250.8" lengthAdjust="spacing">CB IMPLIES TS, GR, MOD OR SEV</text>
<text class="lg" x="823.8" y="202.7" textLength="109" lengthAdjust="spacing">TURB AND ICE</text>
<text class="lg" x="823.5" y="220.7" textLength="310.9" lengthAdjust="spacing">UNITS USED: HEIGHTS IN FLIGHT LEVELS</text>
<text class="lg" x="824.1" y="238.7" textLength="353.3" lengthAdjust="spacing">CHECK SIGMET, ADVISORIES FOR TC AND VA,</text>
<text class="lg" x="823.9" y="256.7" textLength="267.6" lengthAdjust="spacing">AND ASHTAM AND NOTAM FOR VA.</text>
<text class="lg" x="824.5" y="274.7" textLength="361.7" lengthAdjust="spacing">CHECK SIGMET AND NOTAM FOR RDOACT CLD</text>
<text class="lg" x="1142" y="108.7">CAT Areas</text>
<rect class="bx" x="1021.5" y="127.5" width="22" height="22"/>
<text class="lg" x="1032.5" y="144.5">1</text>
<path class="ld" d="M1054.5 139.5H1068.5L1076.5 131.5L1084.5 139.5H1098.5"/>
<text class="lg" x="1121.0" y="136.0">380</text>
<path class="ld" d="M1107.5 139.5H1134.5"/>
<text class="lg" x="1121.0" y="153.8">160</text>
<rect class="bx" x="1021.5" y="181.5" width="22" height="22"/>
<text class="lg" x="1032.5" y="198.5">2</text>
<path class="ld" d="M1054.5 193.5H1068.5L1076.5 185.5L1084.5 193.5H1098.5"/>
<text class="lg" x="1121.0" y="190.0">400</text>
<path class="ld" d="M1107.5 193.5H1134.5"/>
<text class="lg" x="1121.0" y="207.8">180</text>
<rect class="bx" x="1021.5" y="235.5" width="22" height="22"/>
<text class="lg" x="1032.5" y="252.5">3</text>
<path class="ld" d="M1054.5 247.5H1068.5L1076.5 239.5L1084.5 247.5H1098.5"/>
<text class="lg" x="1121.0" y="244.0">400</text>
<path class="ld" d="M1107.5 247.5H1134.5"/>
<text class="lg" x="1121.0" y="261.8">160</text>
<rect class="bx" x="1153.5" y="127.5" width="22" height="22"/>
<text class="lg" x="1164.5" y="144.5">4</text>
<path class="ld" d="M1186.5 139.5H1200.5L1208.5 131.5L1216.5 139.5H1230.5"/>
<text class="lg" x="1253.0" y="136.0">360</text>
<path class="ld" d="M1239.5 139.5H1266.5"/>
<text class="lg" x="1253.0" y="153.8">220</text>
</g>
<rect x="3.5" y="52.5" width="1278.0" height="878.0" fill="none" stroke="#000" stroke-width="1" shape-rendering="crispEdges"/>
</svg>
</body></html>
